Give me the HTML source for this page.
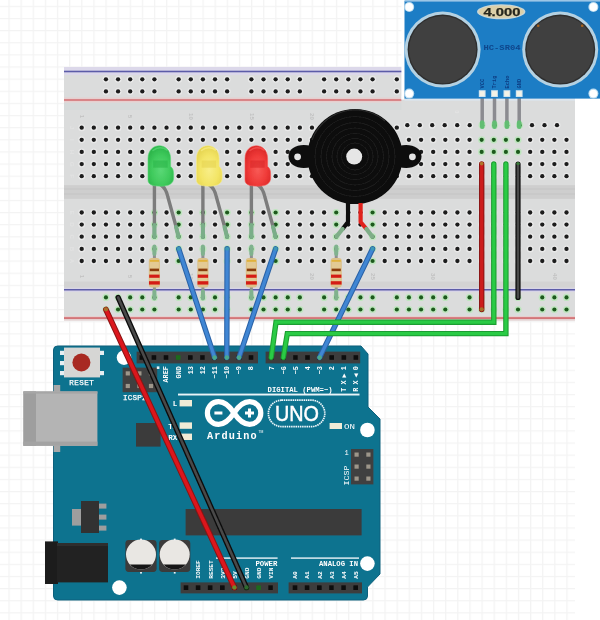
<!DOCTYPE html>
<html lang="en">
<head>
<meta charset="utf-8">
<title>Arduino ultrasonic distance alarm - breadboard wiring</title>
<style>
html,body{margin:0;padding:0;background:#fff;}
body{width:600px;height:620px;overflow:hidden;position:relative;font-family:"Liberation Sans",sans-serif;}
svg{position:absolute;left:0;top:0;display:block;}
.mono{font-family:"Liberation Mono",monospace;}
.sans{font-family:"Liberation Sans",sans-serif;}
.w{fill:#fff;}
</style>
</head>
<body>
<svg width="600" height="620" viewBox="0 0 600 620">
<defs>
<pattern id="grid" x="8.4" y="5.8" width="12.13" height="12.13" patternUnits="userSpaceOnUse">
<path d="M0.6 0V12.13M0 0.6H12.13" stroke="#f3f3f3" stroke-width="1.3" fill="none"/>
</pattern>
<filter id="soft" x="-5%" y="-5%" width="110%" height="110%"><feGaussianBlur stdDeviation="0.45"/></filter>
</defs>
<g filter="url(#soft)">
<rect x="0" y="0" width="600" height="620" fill="#ffffff"/>
<rect x="0" y="0" width="575" height="620" fill="url(#grid)"/>

<g id="breadboard">
<rect x="64" y="67" width="511" height="253.5" fill="#dbdcdc"/>
<rect x="64" y="67" width="511" height="8" fill="#dcd8ea"/>
<rect x="64" y="70.7" width="511" height="1.6" fill="#5b5ba8"/>
<rect x="64" y="97.5" width="511" height="5" fill="#e6cfcf"/>
<rect x="64" y="99.3" width="511" height="1.4" fill="#d2666a"/>
<rect x="64" y="103" width="511" height="7" fill="#d6dada"/>
<rect x="64" y="185.2" width="511" height="13.6" fill="#cecece"/>
<rect x="64" y="188" width="511" height="2" fill="#c9c9c9"/>
<rect x="64" y="193" width="511" height="2" fill="#c9c9c9"/>
<rect x="64" y="287.5" width="511" height="4.5" fill="#d8d5e6"/>
<rect x="64" y="289" width="511" height="1.5" fill="#5b5ba8"/>
<rect x="64" y="316" width="511" height="4.5" fill="#e6cfcf"/>
<rect x="64" y="317.3" width="511" height="1.5" fill="#cf5f63"/>
<circle cx="105.94" cy="79.3" r="3.5" fill="#e9e9e9"/><circle cx="105.94" cy="79.3" r="2.15" fill="#1a1a1a"/>
<circle cx="118.06" cy="79.3" r="3.5" fill="#e9e9e9"/><circle cx="118.06" cy="79.3" r="2.15" fill="#1a1a1a"/>
<circle cx="130.18" cy="79.3" r="3.5" fill="#e9e9e9"/><circle cx="130.18" cy="79.3" r="2.15" fill="#1a1a1a"/>
<circle cx="142.3" cy="79.3" r="3.5" fill="#e9e9e9"/><circle cx="142.3" cy="79.3" r="2.15" fill="#1a1a1a"/>
<circle cx="154.42" cy="79.3" r="3.5" fill="#e9e9e9"/><circle cx="154.42" cy="79.3" r="2.15" fill="#1a1a1a"/>
<circle cx="178.66" cy="79.3" r="3.5" fill="#e9e9e9"/><circle cx="178.66" cy="79.3" r="2.15" fill="#1a1a1a"/>
<circle cx="190.78" cy="79.3" r="3.5" fill="#e9e9e9"/><circle cx="190.78" cy="79.3" r="2.15" fill="#1a1a1a"/>
<circle cx="202.9" cy="79.3" r="3.5" fill="#e9e9e9"/><circle cx="202.9" cy="79.3" r="2.15" fill="#1a1a1a"/>
<circle cx="215.02" cy="79.3" r="3.5" fill="#e9e9e9"/><circle cx="215.02" cy="79.3" r="2.15" fill="#1a1a1a"/>
<circle cx="227.14" cy="79.3" r="3.5" fill="#e9e9e9"/><circle cx="227.14" cy="79.3" r="2.15" fill="#1a1a1a"/>
<circle cx="251.38" cy="79.3" r="3.5" fill="#e9e9e9"/><circle cx="251.38" cy="79.3" r="2.15" fill="#1a1a1a"/>
<circle cx="263.5" cy="79.3" r="3.5" fill="#e9e9e9"/><circle cx="263.5" cy="79.3" r="2.15" fill="#1a1a1a"/>
<circle cx="275.62" cy="79.3" r="3.5" fill="#e9e9e9"/><circle cx="275.62" cy="79.3" r="2.15" fill="#1a1a1a"/>
<circle cx="287.74" cy="79.3" r="3.5" fill="#e9e9e9"/><circle cx="287.74" cy="79.3" r="2.15" fill="#1a1a1a"/>
<circle cx="299.86" cy="79.3" r="3.5" fill="#e9e9e9"/><circle cx="299.86" cy="79.3" r="2.15" fill="#1a1a1a"/>
<circle cx="324.1" cy="79.3" r="3.5" fill="#e9e9e9"/><circle cx="324.1" cy="79.3" r="2.15" fill="#1a1a1a"/>
<circle cx="336.22" cy="79.3" r="3.5" fill="#e9e9e9"/><circle cx="336.22" cy="79.3" r="2.15" fill="#1a1a1a"/>
<circle cx="348.34" cy="79.3" r="3.5" fill="#e9e9e9"/><circle cx="348.34" cy="79.3" r="2.15" fill="#1a1a1a"/>
<circle cx="360.46" cy="79.3" r="3.5" fill="#e9e9e9"/><circle cx="360.46" cy="79.3" r="2.15" fill="#1a1a1a"/>
<circle cx="372.58" cy="79.3" r="3.5" fill="#e9e9e9"/><circle cx="372.58" cy="79.3" r="2.15" fill="#1a1a1a"/>
<circle cx="396.82" cy="79.3" r="3.5" fill="#e9e9e9"/><circle cx="396.82" cy="79.3" r="2.15" fill="#1a1a1a"/>
<circle cx="408.94" cy="79.3" r="3.5" fill="#e9e9e9"/><circle cx="408.94" cy="79.3" r="2.15" fill="#1a1a1a"/>
<circle cx="421.06" cy="79.3" r="3.5" fill="#e9e9e9"/><circle cx="421.06" cy="79.3" r="2.15" fill="#1a1a1a"/>
<circle cx="433.18" cy="79.3" r="3.5" fill="#e9e9e9"/><circle cx="433.18" cy="79.3" r="2.15" fill="#1a1a1a"/>
<circle cx="445.3" cy="79.3" r="3.5" fill="#e9e9e9"/><circle cx="445.3" cy="79.3" r="2.15" fill="#1a1a1a"/>
<circle cx="469.54" cy="79.3" r="3.5" fill="#e9e9e9"/><circle cx="469.54" cy="79.3" r="2.15" fill="#1a1a1a"/>
<circle cx="481.66" cy="79.3" r="3.5" fill="#e9e9e9"/><circle cx="481.66" cy="79.3" r="2.15" fill="#1a1a1a"/>
<circle cx="493.78" cy="79.3" r="3.5" fill="#e9e9e9"/><circle cx="493.78" cy="79.3" r="2.15" fill="#1a1a1a"/>
<circle cx="505.9" cy="79.3" r="3.5" fill="#e9e9e9"/><circle cx="505.9" cy="79.3" r="2.15" fill="#1a1a1a"/>
<circle cx="518.02" cy="79.3" r="3.5" fill="#e9e9e9"/><circle cx="518.02" cy="79.3" r="2.15" fill="#1a1a1a"/>
<circle cx="542.26" cy="79.3" r="3.5" fill="#e9e9e9"/><circle cx="542.26" cy="79.3" r="2.15" fill="#1a1a1a"/>
<circle cx="554.38" cy="79.3" r="3.5" fill="#e9e9e9"/><circle cx="554.38" cy="79.3" r="2.15" fill="#1a1a1a"/>
<circle cx="566.5" cy="79.3" r="3.5" fill="#e9e9e9"/><circle cx="566.5" cy="79.3" r="2.15" fill="#1a1a1a"/>
<circle cx="105.94" cy="91.4" r="3.5" fill="#e9e9e9"/><circle cx="105.94" cy="91.4" r="2.15" fill="#1a1a1a"/>
<circle cx="118.06" cy="91.4" r="3.5" fill="#e9e9e9"/><circle cx="118.06" cy="91.4" r="2.15" fill="#1a1a1a"/>
<circle cx="130.18" cy="91.4" r="3.5" fill="#e9e9e9"/><circle cx="130.18" cy="91.4" r="2.15" fill="#1a1a1a"/>
<circle cx="142.3" cy="91.4" r="3.5" fill="#e9e9e9"/><circle cx="142.3" cy="91.4" r="2.15" fill="#1a1a1a"/>
<circle cx="154.42" cy="91.4" r="3.5" fill="#e9e9e9"/><circle cx="154.42" cy="91.4" r="2.15" fill="#1a1a1a"/>
<circle cx="178.66" cy="91.4" r="3.5" fill="#e9e9e9"/><circle cx="178.66" cy="91.4" r="2.15" fill="#1a1a1a"/>
<circle cx="190.78" cy="91.4" r="3.5" fill="#e9e9e9"/><circle cx="190.78" cy="91.4" r="2.15" fill="#1a1a1a"/>
<circle cx="202.9" cy="91.4" r="3.5" fill="#e9e9e9"/><circle cx="202.9" cy="91.4" r="2.15" fill="#1a1a1a"/>
<circle cx="215.02" cy="91.4" r="3.5" fill="#e9e9e9"/><circle cx="215.02" cy="91.4" r="2.15" fill="#1a1a1a"/>
<circle cx="227.14" cy="91.4" r="3.5" fill="#e9e9e9"/><circle cx="227.14" cy="91.4" r="2.15" fill="#1a1a1a"/>
<circle cx="251.38" cy="91.4" r="3.5" fill="#e9e9e9"/><circle cx="251.38" cy="91.4" r="2.15" fill="#1a1a1a"/>
<circle cx="263.5" cy="91.4" r="3.5" fill="#e9e9e9"/><circle cx="263.5" cy="91.4" r="2.15" fill="#1a1a1a"/>
<circle cx="275.62" cy="91.4" r="3.5" fill="#e9e9e9"/><circle cx="275.62" cy="91.4" r="2.15" fill="#1a1a1a"/>
<circle cx="287.74" cy="91.4" r="3.5" fill="#e9e9e9"/><circle cx="287.74" cy="91.4" r="2.15" fill="#1a1a1a"/>
<circle cx="299.86" cy="91.4" r="3.5" fill="#e9e9e9"/><circle cx="299.86" cy="91.4" r="2.15" fill="#1a1a1a"/>
<circle cx="324.1" cy="91.4" r="3.5" fill="#e9e9e9"/><circle cx="324.1" cy="91.4" r="2.15" fill="#1a1a1a"/>
<circle cx="336.22" cy="91.4" r="3.5" fill="#e9e9e9"/><circle cx="336.22" cy="91.4" r="2.15" fill="#1a1a1a"/>
<circle cx="348.34" cy="91.4" r="3.5" fill="#e9e9e9"/><circle cx="348.34" cy="91.4" r="2.15" fill="#1a1a1a"/>
<circle cx="360.46" cy="91.4" r="3.5" fill="#e9e9e9"/><circle cx="360.46" cy="91.4" r="2.15" fill="#1a1a1a"/>
<circle cx="372.58" cy="91.4" r="3.5" fill="#e9e9e9"/><circle cx="372.58" cy="91.4" r="2.15" fill="#1a1a1a"/>
<circle cx="396.82" cy="91.4" r="3.5" fill="#e9e9e9"/><circle cx="396.82" cy="91.4" r="2.15" fill="#1a1a1a"/>
<circle cx="408.94" cy="91.4" r="3.5" fill="#e9e9e9"/><circle cx="408.94" cy="91.4" r="2.15" fill="#1a1a1a"/>
<circle cx="421.06" cy="91.4" r="3.5" fill="#e9e9e9"/><circle cx="421.06" cy="91.4" r="2.15" fill="#1a1a1a"/>
<circle cx="433.18" cy="91.4" r="3.5" fill="#e9e9e9"/><circle cx="433.18" cy="91.4" r="2.15" fill="#1a1a1a"/>
<circle cx="445.3" cy="91.4" r="3.5" fill="#e9e9e9"/><circle cx="445.3" cy="91.4" r="2.15" fill="#1a1a1a"/>
<circle cx="469.54" cy="91.4" r="3.5" fill="#e9e9e9"/><circle cx="469.54" cy="91.4" r="2.15" fill="#1a1a1a"/>
<circle cx="481.66" cy="91.4" r="3.5" fill="#e9e9e9"/><circle cx="481.66" cy="91.4" r="2.15" fill="#1a1a1a"/>
<circle cx="493.78" cy="91.4" r="3.5" fill="#e9e9e9"/><circle cx="493.78" cy="91.4" r="2.15" fill="#1a1a1a"/>
<circle cx="505.9" cy="91.4" r="3.5" fill="#e9e9e9"/><circle cx="505.9" cy="91.4" r="2.15" fill="#1a1a1a"/>
<circle cx="518.02" cy="91.4" r="3.5" fill="#e9e9e9"/><circle cx="518.02" cy="91.4" r="2.15" fill="#1a1a1a"/>
<circle cx="542.26" cy="91.4" r="3.5" fill="#e9e9e9"/><circle cx="542.26" cy="91.4" r="2.15" fill="#1a1a1a"/>
<circle cx="554.38" cy="91.4" r="3.5" fill="#e9e9e9"/><circle cx="554.38" cy="91.4" r="2.15" fill="#1a1a1a"/>
<circle cx="566.5" cy="91.4" r="3.5" fill="#e9e9e9"/><circle cx="566.5" cy="91.4" r="2.15" fill="#1a1a1a"/>
<circle cx="81.7" cy="127.7" r="3.5" fill="#e9e9e9"/><circle cx="81.7" cy="127.7" r="2.15" fill="#1a1a1a"/>
<circle cx="93.82" cy="127.7" r="3.5" fill="#e9e9e9"/><circle cx="93.82" cy="127.7" r="2.15" fill="#1a1a1a"/>
<circle cx="105.94" cy="127.7" r="3.5" fill="#e9e9e9"/><circle cx="105.94" cy="127.7" r="2.15" fill="#1a1a1a"/>
<circle cx="118.06" cy="127.7" r="3.5" fill="#e9e9e9"/><circle cx="118.06" cy="127.7" r="2.15" fill="#1a1a1a"/>
<circle cx="130.18" cy="127.7" r="3.5" fill="#e9e9e9"/><circle cx="130.18" cy="127.7" r="2.15" fill="#1a1a1a"/>
<circle cx="142.3" cy="127.7" r="3.5" fill="#e9e9e9"/><circle cx="142.3" cy="127.7" r="2.15" fill="#1a1a1a"/>
<circle cx="154.42" cy="127.7" r="3.5" fill="#e9e9e9"/><circle cx="154.42" cy="127.7" r="2.15" fill="#1a1a1a"/>
<circle cx="166.54" cy="127.7" r="3.5" fill="#e9e9e9"/><circle cx="166.54" cy="127.7" r="2.15" fill="#1a1a1a"/>
<circle cx="178.66" cy="127.7" r="3.5" fill="#e9e9e9"/><circle cx="178.66" cy="127.7" r="2.15" fill="#1a1a1a"/>
<circle cx="190.78" cy="127.7" r="3.5" fill="#e9e9e9"/><circle cx="190.78" cy="127.7" r="2.15" fill="#1a1a1a"/>
<circle cx="202.9" cy="127.7" r="3.5" fill="#e9e9e9"/><circle cx="202.9" cy="127.7" r="2.15" fill="#1a1a1a"/>
<circle cx="215.02" cy="127.7" r="3.5" fill="#e9e9e9"/><circle cx="215.02" cy="127.7" r="2.15" fill="#1a1a1a"/>
<circle cx="227.14" cy="127.7" r="3.5" fill="#e9e9e9"/><circle cx="227.14" cy="127.7" r="2.15" fill="#1a1a1a"/>
<circle cx="239.26" cy="127.7" r="3.5" fill="#e9e9e9"/><circle cx="239.26" cy="127.7" r="2.15" fill="#1a1a1a"/>
<circle cx="251.38" cy="127.7" r="3.5" fill="#e9e9e9"/><circle cx="251.38" cy="127.7" r="2.15" fill="#1a1a1a"/>
<circle cx="263.5" cy="127.7" r="3.5" fill="#e9e9e9"/><circle cx="263.5" cy="127.7" r="2.15" fill="#1a1a1a"/>
<circle cx="275.62" cy="127.7" r="3.5" fill="#e9e9e9"/><circle cx="275.62" cy="127.7" r="2.15" fill="#1a1a1a"/>
<circle cx="287.74" cy="127.7" r="3.5" fill="#e9e9e9"/><circle cx="287.74" cy="127.7" r="2.15" fill="#1a1a1a"/>
<circle cx="299.86" cy="127.7" r="3.5" fill="#e9e9e9"/><circle cx="299.86" cy="127.7" r="2.15" fill="#1a1a1a"/>
<circle cx="311.98" cy="127.7" r="3.5" fill="#e9e9e9"/><circle cx="311.98" cy="127.7" r="2.15" fill="#1a1a1a"/>
<circle cx="324.1" cy="127.7" r="3.5" fill="#e9e9e9"/><circle cx="324.1" cy="127.7" r="2.15" fill="#1a1a1a"/>
<circle cx="336.22" cy="127.7" r="3.5" fill="#e9e9e9"/><circle cx="336.22" cy="127.7" r="2.15" fill="#1a1a1a"/>
<circle cx="348.34" cy="127.7" r="3.5" fill="#e9e9e9"/><circle cx="348.34" cy="127.7" r="2.15" fill="#1a1a1a"/>
<circle cx="360.46" cy="127.7" r="3.5" fill="#e9e9e9"/><circle cx="360.46" cy="127.7" r="2.15" fill="#1a1a1a"/>
<circle cx="372.58" cy="127.7" r="3.5" fill="#e9e9e9"/><circle cx="372.58" cy="127.7" r="2.15" fill="#1a1a1a"/>
<circle cx="384.7" cy="127.7" r="3.5" fill="#e9e9e9"/><circle cx="384.7" cy="127.7" r="2.15" fill="#1a1a1a"/>
<circle cx="396.82" cy="127.7" r="3.5" fill="#e9e9e9"/><circle cx="396.82" cy="127.7" r="2.15" fill="#1a1a1a"/>
<circle cx="81.7" cy="139.8" r="3.5" fill="#e9e9e9"/><circle cx="81.7" cy="139.8" r="2.15" fill="#1a1a1a"/>
<circle cx="93.82" cy="139.8" r="3.5" fill="#e9e9e9"/><circle cx="93.82" cy="139.8" r="2.15" fill="#1a1a1a"/>
<circle cx="105.94" cy="139.8" r="3.5" fill="#e9e9e9"/><circle cx="105.94" cy="139.8" r="2.15" fill="#1a1a1a"/>
<circle cx="118.06" cy="139.8" r="3.5" fill="#e9e9e9"/><circle cx="118.06" cy="139.8" r="2.15" fill="#1a1a1a"/>
<circle cx="130.18" cy="139.8" r="3.5" fill="#e9e9e9"/><circle cx="130.18" cy="139.8" r="2.15" fill="#1a1a1a"/>
<circle cx="142.3" cy="139.8" r="3.5" fill="#e9e9e9"/><circle cx="142.3" cy="139.8" r="2.15" fill="#1a1a1a"/>
<circle cx="154.42" cy="139.8" r="3.5" fill="#e9e9e9"/><circle cx="154.42" cy="139.8" r="2.15" fill="#1a1a1a"/>
<circle cx="166.54" cy="139.8" r="3.5" fill="#e9e9e9"/><circle cx="166.54" cy="139.8" r="2.15" fill="#1a1a1a"/>
<circle cx="178.66" cy="139.8" r="3.5" fill="#e9e9e9"/><circle cx="178.66" cy="139.8" r="2.15" fill="#1a1a1a"/>
<circle cx="190.78" cy="139.8" r="3.5" fill="#e9e9e9"/><circle cx="190.78" cy="139.8" r="2.15" fill="#1a1a1a"/>
<circle cx="202.9" cy="139.8" r="3.5" fill="#e9e9e9"/><circle cx="202.9" cy="139.8" r="2.15" fill="#1a1a1a"/>
<circle cx="215.02" cy="139.8" r="3.5" fill="#e9e9e9"/><circle cx="215.02" cy="139.8" r="2.15" fill="#1a1a1a"/>
<circle cx="227.14" cy="139.8" r="3.5" fill="#e9e9e9"/><circle cx="227.14" cy="139.8" r="2.15" fill="#1a1a1a"/>
<circle cx="239.26" cy="139.8" r="3.5" fill="#e9e9e9"/><circle cx="239.26" cy="139.8" r="2.15" fill="#1a1a1a"/>
<circle cx="251.38" cy="139.8" r="3.5" fill="#e9e9e9"/><circle cx="251.38" cy="139.8" r="2.15" fill="#1a1a1a"/>
<circle cx="263.5" cy="139.8" r="3.5" fill="#e9e9e9"/><circle cx="263.5" cy="139.8" r="2.15" fill="#1a1a1a"/>
<circle cx="275.62" cy="139.8" r="3.5" fill="#e9e9e9"/><circle cx="275.62" cy="139.8" r="2.15" fill="#1a1a1a"/>
<circle cx="287.74" cy="139.8" r="3.5" fill="#e9e9e9"/><circle cx="287.74" cy="139.8" r="2.15" fill="#1a1a1a"/>
<circle cx="299.86" cy="139.8" r="3.5" fill="#e9e9e9"/><circle cx="299.86" cy="139.8" r="2.15" fill="#1a1a1a"/>
<circle cx="311.98" cy="139.8" r="3.5" fill="#e9e9e9"/><circle cx="311.98" cy="139.8" r="2.15" fill="#1a1a1a"/>
<circle cx="324.1" cy="139.8" r="3.5" fill="#e9e9e9"/><circle cx="324.1" cy="139.8" r="2.15" fill="#1a1a1a"/>
<circle cx="336.22" cy="139.8" r="3.5" fill="#e9e9e9"/><circle cx="336.22" cy="139.8" r="2.15" fill="#1a1a1a"/>
<circle cx="348.34" cy="139.8" r="3.5" fill="#e9e9e9"/><circle cx="348.34" cy="139.8" r="2.15" fill="#1a1a1a"/>
<circle cx="360.46" cy="139.8" r="3.5" fill="#e9e9e9"/><circle cx="360.46" cy="139.8" r="2.15" fill="#1a1a1a"/>
<circle cx="372.58" cy="139.8" r="3.5" fill="#e9e9e9"/><circle cx="372.58" cy="139.8" r="2.15" fill="#1a1a1a"/>
<circle cx="384.7" cy="139.8" r="3.5" fill="#e9e9e9"/><circle cx="384.7" cy="139.8" r="2.15" fill="#1a1a1a"/>
<circle cx="396.82" cy="139.8" r="3.5" fill="#e9e9e9"/><circle cx="396.82" cy="139.8" r="2.15" fill="#1a1a1a"/>
<circle cx="408.94" cy="139.8" r="3.5" fill="#e9e9e9"/><circle cx="408.94" cy="139.8" r="2.15" fill="#1a1a1a"/>
<circle cx="421.06" cy="139.8" r="3.5" fill="#e9e9e9"/><circle cx="421.06" cy="139.8" r="2.15" fill="#1a1a1a"/>
<circle cx="433.18" cy="139.8" r="3.5" fill="#e9e9e9"/><circle cx="433.18" cy="139.8" r="2.15" fill="#1a1a1a"/>
<circle cx="445.3" cy="139.8" r="3.5" fill="#e9e9e9"/><circle cx="445.3" cy="139.8" r="2.15" fill="#1a1a1a"/>
<circle cx="457.42" cy="139.8" r="3.5" fill="#e9e9e9"/><circle cx="457.42" cy="139.8" r="2.15" fill="#1a1a1a"/>
<circle cx="469.54" cy="139.8" r="3.5" fill="#e9e9e9"/><circle cx="469.54" cy="139.8" r="2.15" fill="#1a1a1a"/>
<circle cx="481.66" cy="139.8" r="3.6" fill="#bfe6bf"/><circle cx="481.66" cy="139.8" r="2.1" fill="#1f5a1f"/>
<circle cx="493.78" cy="139.8" r="3.6" fill="#bfe6bf"/><circle cx="493.78" cy="139.8" r="2.1" fill="#1f5a1f"/>
<circle cx="505.9" cy="139.8" r="3.6" fill="#bfe6bf"/><circle cx="505.9" cy="139.8" r="2.1" fill="#1f5a1f"/>
<circle cx="518.02" cy="139.8" r="3.6" fill="#bfe6bf"/><circle cx="518.02" cy="139.8" r="2.1" fill="#1f5a1f"/>
<circle cx="530.14" cy="139.8" r="3.5" fill="#e9e9e9"/><circle cx="530.14" cy="139.8" r="2.15" fill="#1a1a1a"/>
<circle cx="542.26" cy="139.8" r="3.5" fill="#e9e9e9"/><circle cx="542.26" cy="139.8" r="2.15" fill="#1a1a1a"/>
<circle cx="554.38" cy="139.8" r="3.5" fill="#e9e9e9"/><circle cx="554.38" cy="139.8" r="2.15" fill="#1a1a1a"/>
<circle cx="566.5" cy="139.8" r="3.5" fill="#e9e9e9"/><circle cx="566.5" cy="139.8" r="2.15" fill="#1a1a1a"/>
<circle cx="81.7" cy="151.9" r="3.5" fill="#e9e9e9"/><circle cx="81.7" cy="151.9" r="2.15" fill="#1a1a1a"/>
<circle cx="93.82" cy="151.9" r="3.5" fill="#e9e9e9"/><circle cx="93.82" cy="151.9" r="2.15" fill="#1a1a1a"/>
<circle cx="105.94" cy="151.9" r="3.5" fill="#e9e9e9"/><circle cx="105.94" cy="151.9" r="2.15" fill="#1a1a1a"/>
<circle cx="118.06" cy="151.9" r="3.5" fill="#e9e9e9"/><circle cx="118.06" cy="151.9" r="2.15" fill="#1a1a1a"/>
<circle cx="130.18" cy="151.9" r="3.5" fill="#e9e9e9"/><circle cx="130.18" cy="151.9" r="2.15" fill="#1a1a1a"/>
<circle cx="142.3" cy="151.9" r="3.5" fill="#e9e9e9"/><circle cx="142.3" cy="151.9" r="2.15" fill="#1a1a1a"/>
<circle cx="154.42" cy="151.9" r="3.5" fill="#e9e9e9"/><circle cx="154.42" cy="151.9" r="2.15" fill="#1a1a1a"/>
<circle cx="166.54" cy="151.9" r="3.5" fill="#e9e9e9"/><circle cx="166.54" cy="151.9" r="2.15" fill="#1a1a1a"/>
<circle cx="178.66" cy="151.9" r="3.5" fill="#e9e9e9"/><circle cx="178.66" cy="151.9" r="2.15" fill="#1a1a1a"/>
<circle cx="190.78" cy="151.9" r="3.5" fill="#e9e9e9"/><circle cx="190.78" cy="151.9" r="2.15" fill="#1a1a1a"/>
<circle cx="202.9" cy="151.9" r="3.5" fill="#e9e9e9"/><circle cx="202.9" cy="151.9" r="2.15" fill="#1a1a1a"/>
<circle cx="215.02" cy="151.9" r="3.5" fill="#e9e9e9"/><circle cx="215.02" cy="151.9" r="2.15" fill="#1a1a1a"/>
<circle cx="227.14" cy="151.9" r="3.5" fill="#e9e9e9"/><circle cx="227.14" cy="151.9" r="2.15" fill="#1a1a1a"/>
<circle cx="239.26" cy="151.9" r="3.5" fill="#e9e9e9"/><circle cx="239.26" cy="151.9" r="2.15" fill="#1a1a1a"/>
<circle cx="251.38" cy="151.9" r="3.5" fill="#e9e9e9"/><circle cx="251.38" cy="151.9" r="2.15" fill="#1a1a1a"/>
<circle cx="263.5" cy="151.9" r="3.5" fill="#e9e9e9"/><circle cx="263.5" cy="151.9" r="2.15" fill="#1a1a1a"/>
<circle cx="275.62" cy="151.9" r="3.5" fill="#e9e9e9"/><circle cx="275.62" cy="151.9" r="2.15" fill="#1a1a1a"/>
<circle cx="287.74" cy="151.9" r="3.5" fill="#e9e9e9"/><circle cx="287.74" cy="151.9" r="2.15" fill="#1a1a1a"/>
<circle cx="299.86" cy="151.9" r="3.5" fill="#e9e9e9"/><circle cx="299.86" cy="151.9" r="2.15" fill="#1a1a1a"/>
<circle cx="311.98" cy="151.9" r="3.5" fill="#e9e9e9"/><circle cx="311.98" cy="151.9" r="2.15" fill="#1a1a1a"/>
<circle cx="324.1" cy="151.9" r="3.5" fill="#e9e9e9"/><circle cx="324.1" cy="151.9" r="2.15" fill="#1a1a1a"/>
<circle cx="336.22" cy="151.9" r="3.5" fill="#e9e9e9"/><circle cx="336.22" cy="151.9" r="2.15" fill="#1a1a1a"/>
<circle cx="348.34" cy="151.9" r="3.5" fill="#e9e9e9"/><circle cx="348.34" cy="151.9" r="2.15" fill="#1a1a1a"/>
<circle cx="360.46" cy="151.9" r="3.5" fill="#e9e9e9"/><circle cx="360.46" cy="151.9" r="2.15" fill="#1a1a1a"/>
<circle cx="372.58" cy="151.9" r="3.5" fill="#e9e9e9"/><circle cx="372.58" cy="151.9" r="2.15" fill="#1a1a1a"/>
<circle cx="384.7" cy="151.9" r="3.5" fill="#e9e9e9"/><circle cx="384.7" cy="151.9" r="2.15" fill="#1a1a1a"/>
<circle cx="396.82" cy="151.9" r="3.5" fill="#e9e9e9"/><circle cx="396.82" cy="151.9" r="2.15" fill="#1a1a1a"/>
<circle cx="408.94" cy="151.9" r="3.5" fill="#e9e9e9"/><circle cx="408.94" cy="151.9" r="2.15" fill="#1a1a1a"/>
<circle cx="421.06" cy="151.9" r="3.5" fill="#e9e9e9"/><circle cx="421.06" cy="151.9" r="2.15" fill="#1a1a1a"/>
<circle cx="433.18" cy="151.9" r="3.5" fill="#e9e9e9"/><circle cx="433.18" cy="151.9" r="2.15" fill="#1a1a1a"/>
<circle cx="445.3" cy="151.9" r="3.5" fill="#e9e9e9"/><circle cx="445.3" cy="151.9" r="2.15" fill="#1a1a1a"/>
<circle cx="457.42" cy="151.9" r="3.5" fill="#e9e9e9"/><circle cx="457.42" cy="151.9" r="2.15" fill="#1a1a1a"/>
<circle cx="469.54" cy="151.9" r="3.5" fill="#e9e9e9"/><circle cx="469.54" cy="151.9" r="2.15" fill="#1a1a1a"/>
<circle cx="481.66" cy="151.9" r="3.6" fill="#bfe6bf"/><circle cx="481.66" cy="151.9" r="2.1" fill="#1f5a1f"/>
<circle cx="493.78" cy="151.9" r="3.6" fill="#bfe6bf"/><circle cx="493.78" cy="151.9" r="2.1" fill="#1f5a1f"/>
<circle cx="505.9" cy="151.9" r="3.6" fill="#bfe6bf"/><circle cx="505.9" cy="151.9" r="2.1" fill="#1f5a1f"/>
<circle cx="518.02" cy="151.9" r="3.6" fill="#bfe6bf"/><circle cx="518.02" cy="151.9" r="2.1" fill="#1f5a1f"/>
<circle cx="530.14" cy="151.9" r="3.5" fill="#e9e9e9"/><circle cx="530.14" cy="151.9" r="2.15" fill="#1a1a1a"/>
<circle cx="542.26" cy="151.9" r="3.5" fill="#e9e9e9"/><circle cx="542.26" cy="151.9" r="2.15" fill="#1a1a1a"/>
<circle cx="554.38" cy="151.9" r="3.5" fill="#e9e9e9"/><circle cx="554.38" cy="151.9" r="2.15" fill="#1a1a1a"/>
<circle cx="566.5" cy="151.9" r="3.5" fill="#e9e9e9"/><circle cx="566.5" cy="151.9" r="2.15" fill="#1a1a1a"/>
<circle cx="81.7" cy="164.1" r="3.5" fill="#e9e9e9"/><circle cx="81.7" cy="164.1" r="2.15" fill="#1a1a1a"/>
<circle cx="93.82" cy="164.1" r="3.5" fill="#e9e9e9"/><circle cx="93.82" cy="164.1" r="2.15" fill="#1a1a1a"/>
<circle cx="105.94" cy="164.1" r="3.5" fill="#e9e9e9"/><circle cx="105.94" cy="164.1" r="2.15" fill="#1a1a1a"/>
<circle cx="118.06" cy="164.1" r="3.5" fill="#e9e9e9"/><circle cx="118.06" cy="164.1" r="2.15" fill="#1a1a1a"/>
<circle cx="130.18" cy="164.1" r="3.5" fill="#e9e9e9"/><circle cx="130.18" cy="164.1" r="2.15" fill="#1a1a1a"/>
<circle cx="142.3" cy="164.1" r="3.5" fill="#e9e9e9"/><circle cx="142.3" cy="164.1" r="2.15" fill="#1a1a1a"/>
<circle cx="154.42" cy="164.1" r="3.5" fill="#e9e9e9"/><circle cx="154.42" cy="164.1" r="2.15" fill="#1a1a1a"/>
<circle cx="166.54" cy="164.1" r="3.5" fill="#e9e9e9"/><circle cx="166.54" cy="164.1" r="2.15" fill="#1a1a1a"/>
<circle cx="178.66" cy="164.1" r="3.5" fill="#e9e9e9"/><circle cx="178.66" cy="164.1" r="2.15" fill="#1a1a1a"/>
<circle cx="190.78" cy="164.1" r="3.5" fill="#e9e9e9"/><circle cx="190.78" cy="164.1" r="2.15" fill="#1a1a1a"/>
<circle cx="202.9" cy="164.1" r="3.5" fill="#e9e9e9"/><circle cx="202.9" cy="164.1" r="2.15" fill="#1a1a1a"/>
<circle cx="215.02" cy="164.1" r="3.5" fill="#e9e9e9"/><circle cx="215.02" cy="164.1" r="2.15" fill="#1a1a1a"/>
<circle cx="227.14" cy="164.1" r="3.5" fill="#e9e9e9"/><circle cx="227.14" cy="164.1" r="2.15" fill="#1a1a1a"/>
<circle cx="239.26" cy="164.1" r="3.5" fill="#e9e9e9"/><circle cx="239.26" cy="164.1" r="2.15" fill="#1a1a1a"/>
<circle cx="251.38" cy="164.1" r="3.5" fill="#e9e9e9"/><circle cx="251.38" cy="164.1" r="2.15" fill="#1a1a1a"/>
<circle cx="263.5" cy="164.1" r="3.5" fill="#e9e9e9"/><circle cx="263.5" cy="164.1" r="2.15" fill="#1a1a1a"/>
<circle cx="275.62" cy="164.1" r="3.5" fill="#e9e9e9"/><circle cx="275.62" cy="164.1" r="2.15" fill="#1a1a1a"/>
<circle cx="287.74" cy="164.1" r="3.5" fill="#e9e9e9"/><circle cx="287.74" cy="164.1" r="2.15" fill="#1a1a1a"/>
<circle cx="299.86" cy="164.1" r="3.5" fill="#e9e9e9"/><circle cx="299.86" cy="164.1" r="2.15" fill="#1a1a1a"/>
<circle cx="311.98" cy="164.1" r="3.5" fill="#e9e9e9"/><circle cx="311.98" cy="164.1" r="2.15" fill="#1a1a1a"/>
<circle cx="324.1" cy="164.1" r="3.5" fill="#e9e9e9"/><circle cx="324.1" cy="164.1" r="2.15" fill="#1a1a1a"/>
<circle cx="336.22" cy="164.1" r="3.5" fill="#e9e9e9"/><circle cx="336.22" cy="164.1" r="2.15" fill="#1a1a1a"/>
<circle cx="348.34" cy="164.1" r="3.5" fill="#e9e9e9"/><circle cx="348.34" cy="164.1" r="2.15" fill="#1a1a1a"/>
<circle cx="360.46" cy="164.1" r="3.5" fill="#e9e9e9"/><circle cx="360.46" cy="164.1" r="2.15" fill="#1a1a1a"/>
<circle cx="372.58" cy="164.1" r="3.5" fill="#e9e9e9"/><circle cx="372.58" cy="164.1" r="2.15" fill="#1a1a1a"/>
<circle cx="384.7" cy="164.1" r="3.5" fill="#e9e9e9"/><circle cx="384.7" cy="164.1" r="2.15" fill="#1a1a1a"/>
<circle cx="396.82" cy="164.1" r="3.5" fill="#e9e9e9"/><circle cx="396.82" cy="164.1" r="2.15" fill="#1a1a1a"/>
<circle cx="408.94" cy="164.1" r="3.5" fill="#e9e9e9"/><circle cx="408.94" cy="164.1" r="2.15" fill="#1a1a1a"/>
<circle cx="421.06" cy="164.1" r="3.5" fill="#e9e9e9"/><circle cx="421.06" cy="164.1" r="2.15" fill="#1a1a1a"/>
<circle cx="433.18" cy="164.1" r="3.5" fill="#e9e9e9"/><circle cx="433.18" cy="164.1" r="2.15" fill="#1a1a1a"/>
<circle cx="445.3" cy="164.1" r="3.5" fill="#e9e9e9"/><circle cx="445.3" cy="164.1" r="2.15" fill="#1a1a1a"/>
<circle cx="457.42" cy="164.1" r="3.5" fill="#e9e9e9"/><circle cx="457.42" cy="164.1" r="2.15" fill="#1a1a1a"/>
<circle cx="469.54" cy="164.1" r="3.5" fill="#e9e9e9"/><circle cx="469.54" cy="164.1" r="2.15" fill="#1a1a1a"/>
<circle cx="481.66" cy="164.1" r="3.5" fill="#e9e9e9"/><circle cx="481.66" cy="164.1" r="2.15" fill="#1a1a1a"/>
<circle cx="493.78" cy="164.1" r="3.5" fill="#e9e9e9"/><circle cx="493.78" cy="164.1" r="2.15" fill="#1a1a1a"/>
<circle cx="505.9" cy="164.1" r="3.5" fill="#e9e9e9"/><circle cx="505.9" cy="164.1" r="2.15" fill="#1a1a1a"/>
<circle cx="518.02" cy="164.1" r="3.5" fill="#e9e9e9"/><circle cx="518.02" cy="164.1" r="2.15" fill="#1a1a1a"/>
<circle cx="530.14" cy="164.1" r="3.5" fill="#e9e9e9"/><circle cx="530.14" cy="164.1" r="2.15" fill="#1a1a1a"/>
<circle cx="542.26" cy="164.1" r="3.5" fill="#e9e9e9"/><circle cx="542.26" cy="164.1" r="2.15" fill="#1a1a1a"/>
<circle cx="554.38" cy="164.1" r="3.5" fill="#e9e9e9"/><circle cx="554.38" cy="164.1" r="2.15" fill="#1a1a1a"/>
<circle cx="566.5" cy="164.1" r="3.5" fill="#e9e9e9"/><circle cx="566.5" cy="164.1" r="2.15" fill="#1a1a1a"/>
<circle cx="81.7" cy="176.2" r="3.5" fill="#e9e9e9"/><circle cx="81.7" cy="176.2" r="2.15" fill="#1a1a1a"/>
<circle cx="93.82" cy="176.2" r="3.5" fill="#e9e9e9"/><circle cx="93.82" cy="176.2" r="2.15" fill="#1a1a1a"/>
<circle cx="105.94" cy="176.2" r="3.5" fill="#e9e9e9"/><circle cx="105.94" cy="176.2" r="2.15" fill="#1a1a1a"/>
<circle cx="118.06" cy="176.2" r="3.5" fill="#e9e9e9"/><circle cx="118.06" cy="176.2" r="2.15" fill="#1a1a1a"/>
<circle cx="130.18" cy="176.2" r="3.5" fill="#e9e9e9"/><circle cx="130.18" cy="176.2" r="2.15" fill="#1a1a1a"/>
<circle cx="142.3" cy="176.2" r="3.5" fill="#e9e9e9"/><circle cx="142.3" cy="176.2" r="2.15" fill="#1a1a1a"/>
<circle cx="154.42" cy="176.2" r="3.5" fill="#e9e9e9"/><circle cx="154.42" cy="176.2" r="2.15" fill="#1a1a1a"/>
<circle cx="166.54" cy="176.2" r="3.5" fill="#e9e9e9"/><circle cx="166.54" cy="176.2" r="2.15" fill="#1a1a1a"/>
<circle cx="178.66" cy="176.2" r="3.5" fill="#e9e9e9"/><circle cx="178.66" cy="176.2" r="2.15" fill="#1a1a1a"/>
<circle cx="190.78" cy="176.2" r="3.5" fill="#e9e9e9"/><circle cx="190.78" cy="176.2" r="2.15" fill="#1a1a1a"/>
<circle cx="202.9" cy="176.2" r="3.5" fill="#e9e9e9"/><circle cx="202.9" cy="176.2" r="2.15" fill="#1a1a1a"/>
<circle cx="215.02" cy="176.2" r="3.5" fill="#e9e9e9"/><circle cx="215.02" cy="176.2" r="2.15" fill="#1a1a1a"/>
<circle cx="227.14" cy="176.2" r="3.5" fill="#e9e9e9"/><circle cx="227.14" cy="176.2" r="2.15" fill="#1a1a1a"/>
<circle cx="239.26" cy="176.2" r="3.5" fill="#e9e9e9"/><circle cx="239.26" cy="176.2" r="2.15" fill="#1a1a1a"/>
<circle cx="251.38" cy="176.2" r="3.5" fill="#e9e9e9"/><circle cx="251.38" cy="176.2" r="2.15" fill="#1a1a1a"/>
<circle cx="263.5" cy="176.2" r="3.5" fill="#e9e9e9"/><circle cx="263.5" cy="176.2" r="2.15" fill="#1a1a1a"/>
<circle cx="275.62" cy="176.2" r="3.5" fill="#e9e9e9"/><circle cx="275.62" cy="176.2" r="2.15" fill="#1a1a1a"/>
<circle cx="287.74" cy="176.2" r="3.5" fill="#e9e9e9"/><circle cx="287.74" cy="176.2" r="2.15" fill="#1a1a1a"/>
<circle cx="299.86" cy="176.2" r="3.5" fill="#e9e9e9"/><circle cx="299.86" cy="176.2" r="2.15" fill="#1a1a1a"/>
<circle cx="311.98" cy="176.2" r="3.5" fill="#e9e9e9"/><circle cx="311.98" cy="176.2" r="2.15" fill="#1a1a1a"/>
<circle cx="324.1" cy="176.2" r="3.5" fill="#e9e9e9"/><circle cx="324.1" cy="176.2" r="2.15" fill="#1a1a1a"/>
<circle cx="336.22" cy="176.2" r="3.5" fill="#e9e9e9"/><circle cx="336.22" cy="176.2" r="2.15" fill="#1a1a1a"/>
<circle cx="348.34" cy="176.2" r="3.5" fill="#e9e9e9"/><circle cx="348.34" cy="176.2" r="2.15" fill="#1a1a1a"/>
<circle cx="360.46" cy="176.2" r="3.5" fill="#e9e9e9"/><circle cx="360.46" cy="176.2" r="2.15" fill="#1a1a1a"/>
<circle cx="372.58" cy="176.2" r="3.5" fill="#e9e9e9"/><circle cx="372.58" cy="176.2" r="2.15" fill="#1a1a1a"/>
<circle cx="384.7" cy="176.2" r="3.5" fill="#e9e9e9"/><circle cx="384.7" cy="176.2" r="2.15" fill="#1a1a1a"/>
<circle cx="396.82" cy="176.2" r="3.5" fill="#e9e9e9"/><circle cx="396.82" cy="176.2" r="2.15" fill="#1a1a1a"/>
<circle cx="408.94" cy="176.2" r="3.5" fill="#e9e9e9"/><circle cx="408.94" cy="176.2" r="2.15" fill="#1a1a1a"/>
<circle cx="421.06" cy="176.2" r="3.5" fill="#e9e9e9"/><circle cx="421.06" cy="176.2" r="2.15" fill="#1a1a1a"/>
<circle cx="433.18" cy="176.2" r="3.5" fill="#e9e9e9"/><circle cx="433.18" cy="176.2" r="2.15" fill="#1a1a1a"/>
<circle cx="445.3" cy="176.2" r="3.5" fill="#e9e9e9"/><circle cx="445.3" cy="176.2" r="2.15" fill="#1a1a1a"/>
<circle cx="457.42" cy="176.2" r="3.5" fill="#e9e9e9"/><circle cx="457.42" cy="176.2" r="2.15" fill="#1a1a1a"/>
<circle cx="469.54" cy="176.2" r="3.5" fill="#e9e9e9"/><circle cx="469.54" cy="176.2" r="2.15" fill="#1a1a1a"/>
<circle cx="481.66" cy="176.2" r="3.5" fill="#e9e9e9"/><circle cx="481.66" cy="176.2" r="2.15" fill="#1a1a1a"/>
<circle cx="493.78" cy="176.2" r="3.5" fill="#e9e9e9"/><circle cx="493.78" cy="176.2" r="2.15" fill="#1a1a1a"/>
<circle cx="505.9" cy="176.2" r="3.5" fill="#e9e9e9"/><circle cx="505.9" cy="176.2" r="2.15" fill="#1a1a1a"/>
<circle cx="518.02" cy="176.2" r="3.5" fill="#e9e9e9"/><circle cx="518.02" cy="176.2" r="2.15" fill="#1a1a1a"/>
<circle cx="530.14" cy="176.2" r="3.5" fill="#e9e9e9"/><circle cx="530.14" cy="176.2" r="2.15" fill="#1a1a1a"/>
<circle cx="542.26" cy="176.2" r="3.5" fill="#e9e9e9"/><circle cx="542.26" cy="176.2" r="2.15" fill="#1a1a1a"/>
<circle cx="554.38" cy="176.2" r="3.5" fill="#e9e9e9"/><circle cx="554.38" cy="176.2" r="2.15" fill="#1a1a1a"/>
<circle cx="566.5" cy="176.2" r="3.5" fill="#e9e9e9"/><circle cx="566.5" cy="176.2" r="2.15" fill="#1a1a1a"/>
<circle cx="407.3" cy="125.2" r="3.5" fill="#e9e9e9"/><circle cx="407.3" cy="125.2" r="2.15" fill="#1a1a1a"/>
<circle cx="419.8" cy="125.2" r="3.5" fill="#e9e9e9"/><circle cx="419.8" cy="125.2" r="2.15" fill="#1a1a1a"/>
<circle cx="432.2" cy="125.2" r="3.5" fill="#e9e9e9"/><circle cx="432.2" cy="125.2" r="2.15" fill="#1a1a1a"/>
<circle cx="444.7" cy="125.2" r="3.5" fill="#e9e9e9"/><circle cx="444.7" cy="125.2" r="2.15" fill="#1a1a1a"/>
<circle cx="457.2" cy="125.2" r="3.5" fill="#e9e9e9"/><circle cx="457.2" cy="125.2" r="2.15" fill="#1a1a1a"/>
<circle cx="469.7" cy="125.2" r="3.5" fill="#e9e9e9"/><circle cx="469.7" cy="125.2" r="2.15" fill="#1a1a1a"/>
<circle cx="482.1" cy="125.2" r="3.6" fill="#bfe6bf"/><circle cx="482.1" cy="125.2" r="2.1" fill="#1f5a1f"/>
<circle cx="494.6" cy="125.2" r="3.6" fill="#bfe6bf"/><circle cx="494.6" cy="125.2" r="2.1" fill="#1f5a1f"/>
<circle cx="507.1" cy="125.2" r="3.6" fill="#bfe6bf"/><circle cx="507.1" cy="125.2" r="2.1" fill="#1f5a1f"/>
<circle cx="519.6" cy="125.2" r="3.6" fill="#bfe6bf"/><circle cx="519.6" cy="125.2" r="2.1" fill="#1f5a1f"/>
<circle cx="532.0" cy="125.2" r="3.5" fill="#e9e9e9"/><circle cx="532.0" cy="125.2" r="2.15" fill="#1a1a1a"/>
<circle cx="544.5" cy="125.2" r="3.5" fill="#e9e9e9"/><circle cx="544.5" cy="125.2" r="2.15" fill="#1a1a1a"/>
<circle cx="557.0" cy="125.2" r="3.5" fill="#e9e9e9"/><circle cx="557.0" cy="125.2" r="2.15" fill="#1a1a1a"/>
<circle cx="81.7" cy="212.5" r="3.5" fill="#e9e9e9"/><circle cx="81.7" cy="212.5" r="2.15" fill="#1a1a1a"/>
<circle cx="93.82" cy="212.5" r="3.5" fill="#e9e9e9"/><circle cx="93.82" cy="212.5" r="2.15" fill="#1a1a1a"/>
<circle cx="105.94" cy="212.5" r="3.5" fill="#e9e9e9"/><circle cx="105.94" cy="212.5" r="2.15" fill="#1a1a1a"/>
<circle cx="118.06" cy="212.5" r="3.5" fill="#e9e9e9"/><circle cx="118.06" cy="212.5" r="2.15" fill="#1a1a1a"/>
<circle cx="130.18" cy="212.5" r="3.5" fill="#e9e9e9"/><circle cx="130.18" cy="212.5" r="2.15" fill="#1a1a1a"/>
<circle cx="142.3" cy="212.5" r="3.5" fill="#e9e9e9"/><circle cx="142.3" cy="212.5" r="2.15" fill="#1a1a1a"/>
<circle cx="154.42" cy="212.5" r="3.6" fill="#bfe6bf"/><circle cx="154.42" cy="212.5" r="2.1" fill="#1f5a1f"/>
<circle cx="166.54" cy="212.5" r="3.5" fill="#e9e9e9"/><circle cx="166.54" cy="212.5" r="2.15" fill="#1a1a1a"/>
<circle cx="178.66" cy="212.5" r="3.6" fill="#bfe6bf"/><circle cx="178.66" cy="212.5" r="2.1" fill="#1f5a1f"/>
<circle cx="190.78" cy="212.5" r="3.5" fill="#e9e9e9"/><circle cx="190.78" cy="212.5" r="2.15" fill="#1a1a1a"/>
<circle cx="202.9" cy="212.5" r="3.6" fill="#bfe6bf"/><circle cx="202.9" cy="212.5" r="2.1" fill="#1f5a1f"/>
<circle cx="215.02" cy="212.5" r="3.5" fill="#e9e9e9"/><circle cx="215.02" cy="212.5" r="2.15" fill="#1a1a1a"/>
<circle cx="227.14" cy="212.5" r="3.6" fill="#bfe6bf"/><circle cx="227.14" cy="212.5" r="2.1" fill="#1f5a1f"/>
<circle cx="239.26" cy="212.5" r="3.5" fill="#e9e9e9"/><circle cx="239.26" cy="212.5" r="2.15" fill="#1a1a1a"/>
<circle cx="251.38" cy="212.5" r="3.6" fill="#bfe6bf"/><circle cx="251.38" cy="212.5" r="2.1" fill="#1f5a1f"/>
<circle cx="263.5" cy="212.5" r="3.5" fill="#e9e9e9"/><circle cx="263.5" cy="212.5" r="2.15" fill="#1a1a1a"/>
<circle cx="275.62" cy="212.5" r="3.6" fill="#bfe6bf"/><circle cx="275.62" cy="212.5" r="2.1" fill="#1f5a1f"/>
<circle cx="287.74" cy="212.5" r="3.5" fill="#e9e9e9"/><circle cx="287.74" cy="212.5" r="2.15" fill="#1a1a1a"/>
<circle cx="299.86" cy="212.5" r="3.5" fill="#e9e9e9"/><circle cx="299.86" cy="212.5" r="2.15" fill="#1a1a1a"/>
<circle cx="311.98" cy="212.5" r="3.5" fill="#e9e9e9"/><circle cx="311.98" cy="212.5" r="2.15" fill="#1a1a1a"/>
<circle cx="324.1" cy="212.5" r="3.5" fill="#e9e9e9"/><circle cx="324.1" cy="212.5" r="2.15" fill="#1a1a1a"/>
<circle cx="336.22" cy="212.5" r="3.6" fill="#bfe6bf"/><circle cx="336.22" cy="212.5" r="2.1" fill="#1f5a1f"/>
<circle cx="348.34" cy="212.5" r="3.5" fill="#e9e9e9"/><circle cx="348.34" cy="212.5" r="2.15" fill="#1a1a1a"/>
<circle cx="360.46" cy="212.5" r="3.5" fill="#e9e9e9"/><circle cx="360.46" cy="212.5" r="2.15" fill="#1a1a1a"/>
<circle cx="372.58" cy="212.5" r="3.6" fill="#bfe6bf"/><circle cx="372.58" cy="212.5" r="2.1" fill="#1f5a1f"/>
<circle cx="384.7" cy="212.5" r="3.5" fill="#e9e9e9"/><circle cx="384.7" cy="212.5" r="2.15" fill="#1a1a1a"/>
<circle cx="396.82" cy="212.5" r="3.5" fill="#e9e9e9"/><circle cx="396.82" cy="212.5" r="2.15" fill="#1a1a1a"/>
<circle cx="408.94" cy="212.5" r="3.5" fill="#e9e9e9"/><circle cx="408.94" cy="212.5" r="2.15" fill="#1a1a1a"/>
<circle cx="421.06" cy="212.5" r="3.5" fill="#e9e9e9"/><circle cx="421.06" cy="212.5" r="2.15" fill="#1a1a1a"/>
<circle cx="433.18" cy="212.5" r="3.5" fill="#e9e9e9"/><circle cx="433.18" cy="212.5" r="2.15" fill="#1a1a1a"/>
<circle cx="445.3" cy="212.5" r="3.5" fill="#e9e9e9"/><circle cx="445.3" cy="212.5" r="2.15" fill="#1a1a1a"/>
<circle cx="457.42" cy="212.5" r="3.5" fill="#e9e9e9"/><circle cx="457.42" cy="212.5" r="2.15" fill="#1a1a1a"/>
<circle cx="469.54" cy="212.5" r="3.5" fill="#e9e9e9"/><circle cx="469.54" cy="212.5" r="2.15" fill="#1a1a1a"/>
<circle cx="481.66" cy="212.5" r="3.5" fill="#e9e9e9"/><circle cx="481.66" cy="212.5" r="2.15" fill="#1a1a1a"/>
<circle cx="493.78" cy="212.5" r="3.5" fill="#e9e9e9"/><circle cx="493.78" cy="212.5" r="2.15" fill="#1a1a1a"/>
<circle cx="505.9" cy="212.5" r="3.5" fill="#e9e9e9"/><circle cx="505.9" cy="212.5" r="2.15" fill="#1a1a1a"/>
<circle cx="518.02" cy="212.5" r="3.5" fill="#e9e9e9"/><circle cx="518.02" cy="212.5" r="2.15" fill="#1a1a1a"/>
<circle cx="530.14" cy="212.5" r="3.5" fill="#e9e9e9"/><circle cx="530.14" cy="212.5" r="2.15" fill="#1a1a1a"/>
<circle cx="542.26" cy="212.5" r="3.5" fill="#e9e9e9"/><circle cx="542.26" cy="212.5" r="2.15" fill="#1a1a1a"/>
<circle cx="554.38" cy="212.5" r="3.5" fill="#e9e9e9"/><circle cx="554.38" cy="212.5" r="2.15" fill="#1a1a1a"/>
<circle cx="566.5" cy="212.5" r="3.5" fill="#e9e9e9"/><circle cx="566.5" cy="212.5" r="2.15" fill="#1a1a1a"/>
<circle cx="81.7" cy="224.6" r="3.5" fill="#e9e9e9"/><circle cx="81.7" cy="224.6" r="2.15" fill="#1a1a1a"/>
<circle cx="93.82" cy="224.6" r="3.5" fill="#e9e9e9"/><circle cx="93.82" cy="224.6" r="2.15" fill="#1a1a1a"/>
<circle cx="105.94" cy="224.6" r="3.5" fill="#e9e9e9"/><circle cx="105.94" cy="224.6" r="2.15" fill="#1a1a1a"/>
<circle cx="118.06" cy="224.6" r="3.5" fill="#e9e9e9"/><circle cx="118.06" cy="224.6" r="2.15" fill="#1a1a1a"/>
<circle cx="130.18" cy="224.6" r="3.5" fill="#e9e9e9"/><circle cx="130.18" cy="224.6" r="2.15" fill="#1a1a1a"/>
<circle cx="142.3" cy="224.6" r="3.5" fill="#e9e9e9"/><circle cx="142.3" cy="224.6" r="2.15" fill="#1a1a1a"/>
<circle cx="154.42" cy="224.6" r="3.6" fill="#bfe6bf"/><circle cx="154.42" cy="224.6" r="2.1" fill="#1f5a1f"/>
<circle cx="166.54" cy="224.6" r="3.5" fill="#e9e9e9"/><circle cx="166.54" cy="224.6" r="2.15" fill="#1a1a1a"/>
<circle cx="178.66" cy="224.6" r="3.6" fill="#bfe6bf"/><circle cx="178.66" cy="224.6" r="2.1" fill="#1f5a1f"/>
<circle cx="190.78" cy="224.6" r="3.5" fill="#e9e9e9"/><circle cx="190.78" cy="224.6" r="2.15" fill="#1a1a1a"/>
<circle cx="202.9" cy="224.6" r="3.6" fill="#bfe6bf"/><circle cx="202.9" cy="224.6" r="2.1" fill="#1f5a1f"/>
<circle cx="215.02" cy="224.6" r="3.5" fill="#e9e9e9"/><circle cx="215.02" cy="224.6" r="2.15" fill="#1a1a1a"/>
<circle cx="227.14" cy="224.6" r="3.6" fill="#bfe6bf"/><circle cx="227.14" cy="224.6" r="2.1" fill="#1f5a1f"/>
<circle cx="239.26" cy="224.6" r="3.5" fill="#e9e9e9"/><circle cx="239.26" cy="224.6" r="2.15" fill="#1a1a1a"/>
<circle cx="251.38" cy="224.6" r="3.6" fill="#bfe6bf"/><circle cx="251.38" cy="224.6" r="2.1" fill="#1f5a1f"/>
<circle cx="263.5" cy="224.6" r="3.5" fill="#e9e9e9"/><circle cx="263.5" cy="224.6" r="2.15" fill="#1a1a1a"/>
<circle cx="275.62" cy="224.6" r="3.6" fill="#bfe6bf"/><circle cx="275.62" cy="224.6" r="2.1" fill="#1f5a1f"/>
<circle cx="287.74" cy="224.6" r="3.5" fill="#e9e9e9"/><circle cx="287.74" cy="224.6" r="2.15" fill="#1a1a1a"/>
<circle cx="299.86" cy="224.6" r="3.5" fill="#e9e9e9"/><circle cx="299.86" cy="224.6" r="2.15" fill="#1a1a1a"/>
<circle cx="311.98" cy="224.6" r="3.5" fill="#e9e9e9"/><circle cx="311.98" cy="224.6" r="2.15" fill="#1a1a1a"/>
<circle cx="324.1" cy="224.6" r="3.5" fill="#e9e9e9"/><circle cx="324.1" cy="224.6" r="2.15" fill="#1a1a1a"/>
<circle cx="336.22" cy="224.6" r="3.6" fill="#bfe6bf"/><circle cx="336.22" cy="224.6" r="2.1" fill="#1f5a1f"/>
<circle cx="348.34" cy="224.6" r="3.5" fill="#e9e9e9"/><circle cx="348.34" cy="224.6" r="2.15" fill="#1a1a1a"/>
<circle cx="360.46" cy="224.6" r="3.5" fill="#e9e9e9"/><circle cx="360.46" cy="224.6" r="2.15" fill="#1a1a1a"/>
<circle cx="372.58" cy="224.6" r="3.6" fill="#bfe6bf"/><circle cx="372.58" cy="224.6" r="2.1" fill="#1f5a1f"/>
<circle cx="384.7" cy="224.6" r="3.5" fill="#e9e9e9"/><circle cx="384.7" cy="224.6" r="2.15" fill="#1a1a1a"/>
<circle cx="396.82" cy="224.6" r="3.5" fill="#e9e9e9"/><circle cx="396.82" cy="224.6" r="2.15" fill="#1a1a1a"/>
<circle cx="408.94" cy="224.6" r="3.5" fill="#e9e9e9"/><circle cx="408.94" cy="224.6" r="2.15" fill="#1a1a1a"/>
<circle cx="421.06" cy="224.6" r="3.5" fill="#e9e9e9"/><circle cx="421.06" cy="224.6" r="2.15" fill="#1a1a1a"/>
<circle cx="433.18" cy="224.6" r="3.5" fill="#e9e9e9"/><circle cx="433.18" cy="224.6" r="2.15" fill="#1a1a1a"/>
<circle cx="445.3" cy="224.6" r="3.5" fill="#e9e9e9"/><circle cx="445.3" cy="224.6" r="2.15" fill="#1a1a1a"/>
<circle cx="457.42" cy="224.6" r="3.5" fill="#e9e9e9"/><circle cx="457.42" cy="224.6" r="2.15" fill="#1a1a1a"/>
<circle cx="469.54" cy="224.6" r="3.5" fill="#e9e9e9"/><circle cx="469.54" cy="224.6" r="2.15" fill="#1a1a1a"/>
<circle cx="481.66" cy="224.6" r="3.5" fill="#e9e9e9"/><circle cx="481.66" cy="224.6" r="2.15" fill="#1a1a1a"/>
<circle cx="493.78" cy="224.6" r="3.5" fill="#e9e9e9"/><circle cx="493.78" cy="224.6" r="2.15" fill="#1a1a1a"/>
<circle cx="505.9" cy="224.6" r="3.5" fill="#e9e9e9"/><circle cx="505.9" cy="224.6" r="2.15" fill="#1a1a1a"/>
<circle cx="518.02" cy="224.6" r="3.5" fill="#e9e9e9"/><circle cx="518.02" cy="224.6" r="2.15" fill="#1a1a1a"/>
<circle cx="530.14" cy="224.6" r="3.5" fill="#e9e9e9"/><circle cx="530.14" cy="224.6" r="2.15" fill="#1a1a1a"/>
<circle cx="542.26" cy="224.6" r="3.5" fill="#e9e9e9"/><circle cx="542.26" cy="224.6" r="2.15" fill="#1a1a1a"/>
<circle cx="554.38" cy="224.6" r="3.5" fill="#e9e9e9"/><circle cx="554.38" cy="224.6" r="2.15" fill="#1a1a1a"/>
<circle cx="566.5" cy="224.6" r="3.5" fill="#e9e9e9"/><circle cx="566.5" cy="224.6" r="2.15" fill="#1a1a1a"/>
<circle cx="81.7" cy="236.7" r="3.5" fill="#e9e9e9"/><circle cx="81.7" cy="236.7" r="2.15" fill="#1a1a1a"/>
<circle cx="93.82" cy="236.7" r="3.5" fill="#e9e9e9"/><circle cx="93.82" cy="236.7" r="2.15" fill="#1a1a1a"/>
<circle cx="105.94" cy="236.7" r="3.5" fill="#e9e9e9"/><circle cx="105.94" cy="236.7" r="2.15" fill="#1a1a1a"/>
<circle cx="118.06" cy="236.7" r="3.5" fill="#e9e9e9"/><circle cx="118.06" cy="236.7" r="2.15" fill="#1a1a1a"/>
<circle cx="130.18" cy="236.7" r="3.5" fill="#e9e9e9"/><circle cx="130.18" cy="236.7" r="2.15" fill="#1a1a1a"/>
<circle cx="142.3" cy="236.7" r="3.5" fill="#e9e9e9"/><circle cx="142.3" cy="236.7" r="2.15" fill="#1a1a1a"/>
<circle cx="154.42" cy="236.7" r="3.6" fill="#bfe6bf"/><circle cx="154.42" cy="236.7" r="2.1" fill="#1f5a1f"/>
<circle cx="166.54" cy="236.7" r="3.5" fill="#e9e9e9"/><circle cx="166.54" cy="236.7" r="2.15" fill="#1a1a1a"/>
<circle cx="178.66" cy="236.7" r="3.6" fill="#bfe6bf"/><circle cx="178.66" cy="236.7" r="2.1" fill="#1f5a1f"/>
<circle cx="190.78" cy="236.7" r="3.5" fill="#e9e9e9"/><circle cx="190.78" cy="236.7" r="2.15" fill="#1a1a1a"/>
<circle cx="202.9" cy="236.7" r="3.6" fill="#bfe6bf"/><circle cx="202.9" cy="236.7" r="2.1" fill="#1f5a1f"/>
<circle cx="215.02" cy="236.7" r="3.5" fill="#e9e9e9"/><circle cx="215.02" cy="236.7" r="2.15" fill="#1a1a1a"/>
<circle cx="227.14" cy="236.7" r="3.6" fill="#bfe6bf"/><circle cx="227.14" cy="236.7" r="2.1" fill="#1f5a1f"/>
<circle cx="239.26" cy="236.7" r="3.5" fill="#e9e9e9"/><circle cx="239.26" cy="236.7" r="2.15" fill="#1a1a1a"/>
<circle cx="251.38" cy="236.7" r="3.6" fill="#bfe6bf"/><circle cx="251.38" cy="236.7" r="2.1" fill="#1f5a1f"/>
<circle cx="263.5" cy="236.7" r="3.5" fill="#e9e9e9"/><circle cx="263.5" cy="236.7" r="2.15" fill="#1a1a1a"/>
<circle cx="275.62" cy="236.7" r="3.6" fill="#bfe6bf"/><circle cx="275.62" cy="236.7" r="2.1" fill="#1f5a1f"/>
<circle cx="287.74" cy="236.7" r="3.5" fill="#e9e9e9"/><circle cx="287.74" cy="236.7" r="2.15" fill="#1a1a1a"/>
<circle cx="299.86" cy="236.7" r="3.5" fill="#e9e9e9"/><circle cx="299.86" cy="236.7" r="2.15" fill="#1a1a1a"/>
<circle cx="311.98" cy="236.7" r="3.5" fill="#e9e9e9"/><circle cx="311.98" cy="236.7" r="2.15" fill="#1a1a1a"/>
<circle cx="324.1" cy="236.7" r="3.5" fill="#e9e9e9"/><circle cx="324.1" cy="236.7" r="2.15" fill="#1a1a1a"/>
<circle cx="336.22" cy="236.7" r="3.6" fill="#bfe6bf"/><circle cx="336.22" cy="236.7" r="2.1" fill="#1f5a1f"/>
<circle cx="348.34" cy="236.7" r="3.5" fill="#e9e9e9"/><circle cx="348.34" cy="236.7" r="2.15" fill="#1a1a1a"/>
<circle cx="360.46" cy="236.7" r="3.5" fill="#e9e9e9"/><circle cx="360.46" cy="236.7" r="2.15" fill="#1a1a1a"/>
<circle cx="372.58" cy="236.7" r="3.6" fill="#bfe6bf"/><circle cx="372.58" cy="236.7" r="2.1" fill="#1f5a1f"/>
<circle cx="384.7" cy="236.7" r="3.5" fill="#e9e9e9"/><circle cx="384.7" cy="236.7" r="2.15" fill="#1a1a1a"/>
<circle cx="396.82" cy="236.7" r="3.5" fill="#e9e9e9"/><circle cx="396.82" cy="236.7" r="2.15" fill="#1a1a1a"/>
<circle cx="408.94" cy="236.7" r="3.5" fill="#e9e9e9"/><circle cx="408.94" cy="236.7" r="2.15" fill="#1a1a1a"/>
<circle cx="421.06" cy="236.7" r="3.5" fill="#e9e9e9"/><circle cx="421.06" cy="236.7" r="2.15" fill="#1a1a1a"/>
<circle cx="433.18" cy="236.7" r="3.5" fill="#e9e9e9"/><circle cx="433.18" cy="236.7" r="2.15" fill="#1a1a1a"/>
<circle cx="445.3" cy="236.7" r="3.5" fill="#e9e9e9"/><circle cx="445.3" cy="236.7" r="2.15" fill="#1a1a1a"/>
<circle cx="457.42" cy="236.7" r="3.5" fill="#e9e9e9"/><circle cx="457.42" cy="236.7" r="2.15" fill="#1a1a1a"/>
<circle cx="469.54" cy="236.7" r="3.5" fill="#e9e9e9"/><circle cx="469.54" cy="236.7" r="2.15" fill="#1a1a1a"/>
<circle cx="481.66" cy="236.7" r="3.5" fill="#e9e9e9"/><circle cx="481.66" cy="236.7" r="2.15" fill="#1a1a1a"/>
<circle cx="493.78" cy="236.7" r="3.5" fill="#e9e9e9"/><circle cx="493.78" cy="236.7" r="2.15" fill="#1a1a1a"/>
<circle cx="505.9" cy="236.7" r="3.5" fill="#e9e9e9"/><circle cx="505.9" cy="236.7" r="2.15" fill="#1a1a1a"/>
<circle cx="518.02" cy="236.7" r="3.5" fill="#e9e9e9"/><circle cx="518.02" cy="236.7" r="2.15" fill="#1a1a1a"/>
<circle cx="530.14" cy="236.7" r="3.5" fill="#e9e9e9"/><circle cx="530.14" cy="236.7" r="2.15" fill="#1a1a1a"/>
<circle cx="542.26" cy="236.7" r="3.5" fill="#e9e9e9"/><circle cx="542.26" cy="236.7" r="2.15" fill="#1a1a1a"/>
<circle cx="554.38" cy="236.7" r="3.5" fill="#e9e9e9"/><circle cx="554.38" cy="236.7" r="2.15" fill="#1a1a1a"/>
<circle cx="566.5" cy="236.7" r="3.5" fill="#e9e9e9"/><circle cx="566.5" cy="236.7" r="2.15" fill="#1a1a1a"/>
<circle cx="81.7" cy="248.9" r="3.5" fill="#e9e9e9"/><circle cx="81.7" cy="248.9" r="2.15" fill="#1a1a1a"/>
<circle cx="93.82" cy="248.9" r="3.5" fill="#e9e9e9"/><circle cx="93.82" cy="248.9" r="2.15" fill="#1a1a1a"/>
<circle cx="105.94" cy="248.9" r="3.5" fill="#e9e9e9"/><circle cx="105.94" cy="248.9" r="2.15" fill="#1a1a1a"/>
<circle cx="118.06" cy="248.9" r="3.5" fill="#e9e9e9"/><circle cx="118.06" cy="248.9" r="2.15" fill="#1a1a1a"/>
<circle cx="130.18" cy="248.9" r="3.5" fill="#e9e9e9"/><circle cx="130.18" cy="248.9" r="2.15" fill="#1a1a1a"/>
<circle cx="142.3" cy="248.9" r="3.5" fill="#e9e9e9"/><circle cx="142.3" cy="248.9" r="2.15" fill="#1a1a1a"/>
<circle cx="154.42" cy="248.9" r="3.6" fill="#bfe6bf"/><circle cx="154.42" cy="248.9" r="2.1" fill="#1f5a1f"/>
<circle cx="166.54" cy="248.9" r="3.5" fill="#e9e9e9"/><circle cx="166.54" cy="248.9" r="2.15" fill="#1a1a1a"/>
<circle cx="178.66" cy="248.9" r="3.6" fill="#bfe6bf"/><circle cx="178.66" cy="248.9" r="2.1" fill="#1f5a1f"/>
<circle cx="190.78" cy="248.9" r="3.5" fill="#e9e9e9"/><circle cx="190.78" cy="248.9" r="2.15" fill="#1a1a1a"/>
<circle cx="202.9" cy="248.9" r="3.6" fill="#bfe6bf"/><circle cx="202.9" cy="248.9" r="2.1" fill="#1f5a1f"/>
<circle cx="215.02" cy="248.9" r="3.5" fill="#e9e9e9"/><circle cx="215.02" cy="248.9" r="2.15" fill="#1a1a1a"/>
<circle cx="227.14" cy="248.9" r="3.6" fill="#bfe6bf"/><circle cx="227.14" cy="248.9" r="2.1" fill="#1f5a1f"/>
<circle cx="239.26" cy="248.9" r="3.5" fill="#e9e9e9"/><circle cx="239.26" cy="248.9" r="2.15" fill="#1a1a1a"/>
<circle cx="251.38" cy="248.9" r="3.6" fill="#bfe6bf"/><circle cx="251.38" cy="248.9" r="2.1" fill="#1f5a1f"/>
<circle cx="263.5" cy="248.9" r="3.5" fill="#e9e9e9"/><circle cx="263.5" cy="248.9" r="2.15" fill="#1a1a1a"/>
<circle cx="275.62" cy="248.9" r="3.6" fill="#bfe6bf"/><circle cx="275.62" cy="248.9" r="2.1" fill="#1f5a1f"/>
<circle cx="287.74" cy="248.9" r="3.5" fill="#e9e9e9"/><circle cx="287.74" cy="248.9" r="2.15" fill="#1a1a1a"/>
<circle cx="299.86" cy="248.9" r="3.5" fill="#e9e9e9"/><circle cx="299.86" cy="248.9" r="2.15" fill="#1a1a1a"/>
<circle cx="311.98" cy="248.9" r="3.5" fill="#e9e9e9"/><circle cx="311.98" cy="248.9" r="2.15" fill="#1a1a1a"/>
<circle cx="324.1" cy="248.9" r="3.5" fill="#e9e9e9"/><circle cx="324.1" cy="248.9" r="2.15" fill="#1a1a1a"/>
<circle cx="336.22" cy="248.9" r="3.6" fill="#bfe6bf"/><circle cx="336.22" cy="248.9" r="2.1" fill="#1f5a1f"/>
<circle cx="348.34" cy="248.9" r="3.5" fill="#e9e9e9"/><circle cx="348.34" cy="248.9" r="2.15" fill="#1a1a1a"/>
<circle cx="360.46" cy="248.9" r="3.5" fill="#e9e9e9"/><circle cx="360.46" cy="248.9" r="2.15" fill="#1a1a1a"/>
<circle cx="372.58" cy="248.9" r="3.6" fill="#bfe6bf"/><circle cx="372.58" cy="248.9" r="2.1" fill="#1f5a1f"/>
<circle cx="384.7" cy="248.9" r="3.5" fill="#e9e9e9"/><circle cx="384.7" cy="248.9" r="2.15" fill="#1a1a1a"/>
<circle cx="396.82" cy="248.9" r="3.5" fill="#e9e9e9"/><circle cx="396.82" cy="248.9" r="2.15" fill="#1a1a1a"/>
<circle cx="408.94" cy="248.9" r="3.5" fill="#e9e9e9"/><circle cx="408.94" cy="248.9" r="2.15" fill="#1a1a1a"/>
<circle cx="421.06" cy="248.9" r="3.5" fill="#e9e9e9"/><circle cx="421.06" cy="248.9" r="2.15" fill="#1a1a1a"/>
<circle cx="433.18" cy="248.9" r="3.5" fill="#e9e9e9"/><circle cx="433.18" cy="248.9" r="2.15" fill="#1a1a1a"/>
<circle cx="445.3" cy="248.9" r="3.5" fill="#e9e9e9"/><circle cx="445.3" cy="248.9" r="2.15" fill="#1a1a1a"/>
<circle cx="457.42" cy="248.9" r="3.5" fill="#e9e9e9"/><circle cx="457.42" cy="248.9" r="2.15" fill="#1a1a1a"/>
<circle cx="469.54" cy="248.9" r="3.5" fill="#e9e9e9"/><circle cx="469.54" cy="248.9" r="2.15" fill="#1a1a1a"/>
<circle cx="481.66" cy="248.9" r="3.5" fill="#e9e9e9"/><circle cx="481.66" cy="248.9" r="2.15" fill="#1a1a1a"/>
<circle cx="493.78" cy="248.9" r="3.5" fill="#e9e9e9"/><circle cx="493.78" cy="248.9" r="2.15" fill="#1a1a1a"/>
<circle cx="505.9" cy="248.9" r="3.5" fill="#e9e9e9"/><circle cx="505.9" cy="248.9" r="2.15" fill="#1a1a1a"/>
<circle cx="518.02" cy="248.9" r="3.5" fill="#e9e9e9"/><circle cx="518.02" cy="248.9" r="2.15" fill="#1a1a1a"/>
<circle cx="530.14" cy="248.9" r="3.5" fill="#e9e9e9"/><circle cx="530.14" cy="248.9" r="2.15" fill="#1a1a1a"/>
<circle cx="542.26" cy="248.9" r="3.5" fill="#e9e9e9"/><circle cx="542.26" cy="248.9" r="2.15" fill="#1a1a1a"/>
<circle cx="554.38" cy="248.9" r="3.5" fill="#e9e9e9"/><circle cx="554.38" cy="248.9" r="2.15" fill="#1a1a1a"/>
<circle cx="566.5" cy="248.9" r="3.5" fill="#e9e9e9"/><circle cx="566.5" cy="248.9" r="2.15" fill="#1a1a1a"/>
<circle cx="81.7" cy="261.0" r="3.5" fill="#e9e9e9"/><circle cx="81.7" cy="261.0" r="2.15" fill="#1a1a1a"/>
<circle cx="93.82" cy="261.0" r="3.5" fill="#e9e9e9"/><circle cx="93.82" cy="261.0" r="2.15" fill="#1a1a1a"/>
<circle cx="105.94" cy="261.0" r="3.5" fill="#e9e9e9"/><circle cx="105.94" cy="261.0" r="2.15" fill="#1a1a1a"/>
<circle cx="118.06" cy="261.0" r="3.5" fill="#e9e9e9"/><circle cx="118.06" cy="261.0" r="2.15" fill="#1a1a1a"/>
<circle cx="130.18" cy="261.0" r="3.5" fill="#e9e9e9"/><circle cx="130.18" cy="261.0" r="2.15" fill="#1a1a1a"/>
<circle cx="142.3" cy="261.0" r="3.5" fill="#e9e9e9"/><circle cx="142.3" cy="261.0" r="2.15" fill="#1a1a1a"/>
<circle cx="154.42" cy="261.0" r="3.6" fill="#bfe6bf"/><circle cx="154.42" cy="261.0" r="2.1" fill="#1f5a1f"/>
<circle cx="166.54" cy="261.0" r="3.5" fill="#e9e9e9"/><circle cx="166.54" cy="261.0" r="2.15" fill="#1a1a1a"/>
<circle cx="178.66" cy="261.0" r="3.6" fill="#bfe6bf"/><circle cx="178.66" cy="261.0" r="2.1" fill="#1f5a1f"/>
<circle cx="190.78" cy="261.0" r="3.5" fill="#e9e9e9"/><circle cx="190.78" cy="261.0" r="2.15" fill="#1a1a1a"/>
<circle cx="202.9" cy="261.0" r="3.6" fill="#bfe6bf"/><circle cx="202.9" cy="261.0" r="2.1" fill="#1f5a1f"/>
<circle cx="215.02" cy="261.0" r="3.5" fill="#e9e9e9"/><circle cx="215.02" cy="261.0" r="2.15" fill="#1a1a1a"/>
<circle cx="227.14" cy="261.0" r="3.6" fill="#bfe6bf"/><circle cx="227.14" cy="261.0" r="2.1" fill="#1f5a1f"/>
<circle cx="239.26" cy="261.0" r="3.5" fill="#e9e9e9"/><circle cx="239.26" cy="261.0" r="2.15" fill="#1a1a1a"/>
<circle cx="251.38" cy="261.0" r="3.6" fill="#bfe6bf"/><circle cx="251.38" cy="261.0" r="2.1" fill="#1f5a1f"/>
<circle cx="263.5" cy="261.0" r="3.5" fill="#e9e9e9"/><circle cx="263.5" cy="261.0" r="2.15" fill="#1a1a1a"/>
<circle cx="275.62" cy="261.0" r="3.6" fill="#bfe6bf"/><circle cx="275.62" cy="261.0" r="2.1" fill="#1f5a1f"/>
<circle cx="287.74" cy="261.0" r="3.5" fill="#e9e9e9"/><circle cx="287.74" cy="261.0" r="2.15" fill="#1a1a1a"/>
<circle cx="299.86" cy="261.0" r="3.5" fill="#e9e9e9"/><circle cx="299.86" cy="261.0" r="2.15" fill="#1a1a1a"/>
<circle cx="311.98" cy="261.0" r="3.5" fill="#e9e9e9"/><circle cx="311.98" cy="261.0" r="2.15" fill="#1a1a1a"/>
<circle cx="324.1" cy="261.0" r="3.5" fill="#e9e9e9"/><circle cx="324.1" cy="261.0" r="2.15" fill="#1a1a1a"/>
<circle cx="336.22" cy="261.0" r="3.6" fill="#bfe6bf"/><circle cx="336.22" cy="261.0" r="2.1" fill="#1f5a1f"/>
<circle cx="348.34" cy="261.0" r="3.5" fill="#e9e9e9"/><circle cx="348.34" cy="261.0" r="2.15" fill="#1a1a1a"/>
<circle cx="360.46" cy="261.0" r="3.5" fill="#e9e9e9"/><circle cx="360.46" cy="261.0" r="2.15" fill="#1a1a1a"/>
<circle cx="372.58" cy="261.0" r="3.6" fill="#bfe6bf"/><circle cx="372.58" cy="261.0" r="2.1" fill="#1f5a1f"/>
<circle cx="384.7" cy="261.0" r="3.5" fill="#e9e9e9"/><circle cx="384.7" cy="261.0" r="2.15" fill="#1a1a1a"/>
<circle cx="396.82" cy="261.0" r="3.5" fill="#e9e9e9"/><circle cx="396.82" cy="261.0" r="2.15" fill="#1a1a1a"/>
<circle cx="408.94" cy="261.0" r="3.5" fill="#e9e9e9"/><circle cx="408.94" cy="261.0" r="2.15" fill="#1a1a1a"/>
<circle cx="421.06" cy="261.0" r="3.5" fill="#e9e9e9"/><circle cx="421.06" cy="261.0" r="2.15" fill="#1a1a1a"/>
<circle cx="433.18" cy="261.0" r="3.5" fill="#e9e9e9"/><circle cx="433.18" cy="261.0" r="2.15" fill="#1a1a1a"/>
<circle cx="445.3" cy="261.0" r="3.5" fill="#e9e9e9"/><circle cx="445.3" cy="261.0" r="2.15" fill="#1a1a1a"/>
<circle cx="457.42" cy="261.0" r="3.5" fill="#e9e9e9"/><circle cx="457.42" cy="261.0" r="2.15" fill="#1a1a1a"/>
<circle cx="469.54" cy="261.0" r="3.5" fill="#e9e9e9"/><circle cx="469.54" cy="261.0" r="2.15" fill="#1a1a1a"/>
<circle cx="481.66" cy="261.0" r="3.5" fill="#e9e9e9"/><circle cx="481.66" cy="261.0" r="2.15" fill="#1a1a1a"/>
<circle cx="493.78" cy="261.0" r="3.5" fill="#e9e9e9"/><circle cx="493.78" cy="261.0" r="2.15" fill="#1a1a1a"/>
<circle cx="505.9" cy="261.0" r="3.5" fill="#e9e9e9"/><circle cx="505.9" cy="261.0" r="2.15" fill="#1a1a1a"/>
<circle cx="518.02" cy="261.0" r="3.5" fill="#e9e9e9"/><circle cx="518.02" cy="261.0" r="2.15" fill="#1a1a1a"/>
<circle cx="530.14" cy="261.0" r="3.5" fill="#e9e9e9"/><circle cx="530.14" cy="261.0" r="2.15" fill="#1a1a1a"/>
<circle cx="542.26" cy="261.0" r="3.5" fill="#e9e9e9"/><circle cx="542.26" cy="261.0" r="2.15" fill="#1a1a1a"/>
<circle cx="554.38" cy="261.0" r="3.5" fill="#e9e9e9"/><circle cx="554.38" cy="261.0" r="2.15" fill="#1a1a1a"/>
<circle cx="566.5" cy="261.0" r="3.5" fill="#e9e9e9"/><circle cx="566.5" cy="261.0" r="2.15" fill="#1a1a1a"/>
<circle cx="105.94" cy="297.4" r="3.6" fill="#bfe6bf"/><circle cx="105.94" cy="297.4" r="2.1" fill="#1f5a1f"/>
<circle cx="118.06" cy="297.4" r="3.6" fill="#bfe6bf"/><circle cx="118.06" cy="297.4" r="2.1" fill="#1f5a1f"/>
<circle cx="130.18" cy="297.4" r="3.6" fill="#bfe6bf"/><circle cx="130.18" cy="297.4" r="2.1" fill="#1f5a1f"/>
<circle cx="142.3" cy="297.4" r="3.6" fill="#bfe6bf"/><circle cx="142.3" cy="297.4" r="2.1" fill="#1f5a1f"/>
<circle cx="154.42" cy="297.4" r="3.6" fill="#bfe6bf"/><circle cx="154.42" cy="297.4" r="2.1" fill="#1f5a1f"/>
<circle cx="178.66" cy="297.4" r="3.6" fill="#bfe6bf"/><circle cx="178.66" cy="297.4" r="2.1" fill="#1f5a1f"/>
<circle cx="190.78" cy="297.4" r="3.6" fill="#bfe6bf"/><circle cx="190.78" cy="297.4" r="2.1" fill="#1f5a1f"/>
<circle cx="202.9" cy="297.4" r="3.6" fill="#bfe6bf"/><circle cx="202.9" cy="297.4" r="2.1" fill="#1f5a1f"/>
<circle cx="215.02" cy="297.4" r="3.6" fill="#bfe6bf"/><circle cx="215.02" cy="297.4" r="2.1" fill="#1f5a1f"/>
<circle cx="227.14" cy="297.4" r="3.6" fill="#bfe6bf"/><circle cx="227.14" cy="297.4" r="2.1" fill="#1f5a1f"/>
<circle cx="251.38" cy="297.4" r="3.6" fill="#bfe6bf"/><circle cx="251.38" cy="297.4" r="2.1" fill="#1f5a1f"/>
<circle cx="263.5" cy="297.4" r="3.6" fill="#bfe6bf"/><circle cx="263.5" cy="297.4" r="2.1" fill="#1f5a1f"/>
<circle cx="275.62" cy="297.4" r="3.6" fill="#bfe6bf"/><circle cx="275.62" cy="297.4" r="2.1" fill="#1f5a1f"/>
<circle cx="287.74" cy="297.4" r="3.6" fill="#bfe6bf"/><circle cx="287.74" cy="297.4" r="2.1" fill="#1f5a1f"/>
<circle cx="299.86" cy="297.4" r="3.6" fill="#bfe6bf"/><circle cx="299.86" cy="297.4" r="2.1" fill="#1f5a1f"/>
<circle cx="324.1" cy="297.4" r="3.6" fill="#bfe6bf"/><circle cx="324.1" cy="297.4" r="2.1" fill="#1f5a1f"/>
<circle cx="336.22" cy="297.4" r="3.6" fill="#bfe6bf"/><circle cx="336.22" cy="297.4" r="2.1" fill="#1f5a1f"/>
<circle cx="348.34" cy="297.4" r="3.6" fill="#bfe6bf"/><circle cx="348.34" cy="297.4" r="2.1" fill="#1f5a1f"/>
<circle cx="360.46" cy="297.4" r="3.6" fill="#bfe6bf"/><circle cx="360.46" cy="297.4" r="2.1" fill="#1f5a1f"/>
<circle cx="372.58" cy="297.4" r="3.6" fill="#bfe6bf"/><circle cx="372.58" cy="297.4" r="2.1" fill="#1f5a1f"/>
<circle cx="396.82" cy="297.4" r="3.6" fill="#bfe6bf"/><circle cx="396.82" cy="297.4" r="2.1" fill="#1f5a1f"/>
<circle cx="408.94" cy="297.4" r="3.6" fill="#bfe6bf"/><circle cx="408.94" cy="297.4" r="2.1" fill="#1f5a1f"/>
<circle cx="421.06" cy="297.4" r="3.6" fill="#bfe6bf"/><circle cx="421.06" cy="297.4" r="2.1" fill="#1f5a1f"/>
<circle cx="433.18" cy="297.4" r="3.6" fill="#bfe6bf"/><circle cx="433.18" cy="297.4" r="2.1" fill="#1f5a1f"/>
<circle cx="445.3" cy="297.4" r="3.6" fill="#bfe6bf"/><circle cx="445.3" cy="297.4" r="2.1" fill="#1f5a1f"/>
<circle cx="469.54" cy="297.4" r="3.6" fill="#bfe6bf"/><circle cx="469.54" cy="297.4" r="2.1" fill="#1f5a1f"/>
<circle cx="481.66" cy="297.4" r="3.6" fill="#bfe6bf"/><circle cx="481.66" cy="297.4" r="2.1" fill="#1f5a1f"/>
<circle cx="493.78" cy="297.4" r="3.6" fill="#bfe6bf"/><circle cx="493.78" cy="297.4" r="2.1" fill="#1f5a1f"/>
<circle cx="505.9" cy="297.4" r="3.6" fill="#bfe6bf"/><circle cx="505.9" cy="297.4" r="2.1" fill="#1f5a1f"/>
<circle cx="518.02" cy="297.4" r="3.6" fill="#bfe6bf"/><circle cx="518.02" cy="297.4" r="2.1" fill="#1f5a1f"/>
<circle cx="542.26" cy="297.4" r="3.6" fill="#bfe6bf"/><circle cx="542.26" cy="297.4" r="2.1" fill="#1f5a1f"/>
<circle cx="554.38" cy="297.4" r="3.6" fill="#bfe6bf"/><circle cx="554.38" cy="297.4" r="2.1" fill="#1f5a1f"/>
<circle cx="566.5" cy="297.4" r="3.6" fill="#bfe6bf"/><circle cx="566.5" cy="297.4" r="2.1" fill="#1f5a1f"/>
<circle cx="105.94" cy="309.5" r="3.6" fill="#bfe6bf"/><circle cx="105.94" cy="309.5" r="2.1" fill="#1f5a1f"/>
<circle cx="118.06" cy="309.5" r="3.6" fill="#bfe6bf"/><circle cx="118.06" cy="309.5" r="2.1" fill="#1f5a1f"/>
<circle cx="130.18" cy="309.5" r="3.6" fill="#bfe6bf"/><circle cx="130.18" cy="309.5" r="2.1" fill="#1f5a1f"/>
<circle cx="142.3" cy="309.5" r="3.6" fill="#bfe6bf"/><circle cx="142.3" cy="309.5" r="2.1" fill="#1f5a1f"/>
<circle cx="154.42" cy="309.5" r="3.6" fill="#bfe6bf"/><circle cx="154.42" cy="309.5" r="2.1" fill="#1f5a1f"/>
<circle cx="178.66" cy="309.5" r="3.6" fill="#bfe6bf"/><circle cx="178.66" cy="309.5" r="2.1" fill="#1f5a1f"/>
<circle cx="190.78" cy="309.5" r="3.6" fill="#bfe6bf"/><circle cx="190.78" cy="309.5" r="2.1" fill="#1f5a1f"/>
<circle cx="202.9" cy="309.5" r="3.6" fill="#bfe6bf"/><circle cx="202.9" cy="309.5" r="2.1" fill="#1f5a1f"/>
<circle cx="215.02" cy="309.5" r="3.6" fill="#bfe6bf"/><circle cx="215.02" cy="309.5" r="2.1" fill="#1f5a1f"/>
<circle cx="227.14" cy="309.5" r="3.6" fill="#bfe6bf"/><circle cx="227.14" cy="309.5" r="2.1" fill="#1f5a1f"/>
<circle cx="251.38" cy="309.5" r="3.6" fill="#bfe6bf"/><circle cx="251.38" cy="309.5" r="2.1" fill="#1f5a1f"/>
<circle cx="263.5" cy="309.5" r="3.6" fill="#bfe6bf"/><circle cx="263.5" cy="309.5" r="2.1" fill="#1f5a1f"/>
<circle cx="275.62" cy="309.5" r="3.6" fill="#bfe6bf"/><circle cx="275.62" cy="309.5" r="2.1" fill="#1f5a1f"/>
<circle cx="287.74" cy="309.5" r="3.6" fill="#bfe6bf"/><circle cx="287.74" cy="309.5" r="2.1" fill="#1f5a1f"/>
<circle cx="299.86" cy="309.5" r="3.6" fill="#bfe6bf"/><circle cx="299.86" cy="309.5" r="2.1" fill="#1f5a1f"/>
<circle cx="324.1" cy="309.5" r="3.6" fill="#bfe6bf"/><circle cx="324.1" cy="309.5" r="2.1" fill="#1f5a1f"/>
<circle cx="336.22" cy="309.5" r="3.6" fill="#bfe6bf"/><circle cx="336.22" cy="309.5" r="2.1" fill="#1f5a1f"/>
<circle cx="348.34" cy="309.5" r="3.6" fill="#bfe6bf"/><circle cx="348.34" cy="309.5" r="2.1" fill="#1f5a1f"/>
<circle cx="360.46" cy="309.5" r="3.6" fill="#bfe6bf"/><circle cx="360.46" cy="309.5" r="2.1" fill="#1f5a1f"/>
<circle cx="372.58" cy="309.5" r="3.6" fill="#bfe6bf"/><circle cx="372.58" cy="309.5" r="2.1" fill="#1f5a1f"/>
<circle cx="396.82" cy="309.5" r="3.6" fill="#bfe6bf"/><circle cx="396.82" cy="309.5" r="2.1" fill="#1f5a1f"/>
<circle cx="408.94" cy="309.5" r="3.6" fill="#bfe6bf"/><circle cx="408.94" cy="309.5" r="2.1" fill="#1f5a1f"/>
<circle cx="421.06" cy="309.5" r="3.6" fill="#bfe6bf"/><circle cx="421.06" cy="309.5" r="2.1" fill="#1f5a1f"/>
<circle cx="433.18" cy="309.5" r="3.6" fill="#bfe6bf"/><circle cx="433.18" cy="309.5" r="2.1" fill="#1f5a1f"/>
<circle cx="445.3" cy="309.5" r="3.6" fill="#bfe6bf"/><circle cx="445.3" cy="309.5" r="2.1" fill="#1f5a1f"/>
<circle cx="469.54" cy="309.5" r="3.6" fill="#bfe6bf"/><circle cx="469.54" cy="309.5" r="2.1" fill="#1f5a1f"/>
<circle cx="481.66" cy="309.5" r="3.6" fill="#bfe6bf"/><circle cx="481.66" cy="309.5" r="2.1" fill="#1f5a1f"/>
<circle cx="493.78" cy="309.5" r="3.6" fill="#bfe6bf"/><circle cx="493.78" cy="309.5" r="2.1" fill="#1f5a1f"/>
<circle cx="505.9" cy="309.5" r="3.6" fill="#bfe6bf"/><circle cx="505.9" cy="309.5" r="2.1" fill="#1f5a1f"/>
<circle cx="518.02" cy="309.5" r="3.6" fill="#bfe6bf"/><circle cx="518.02" cy="309.5" r="2.1" fill="#1f5a1f"/>
<circle cx="542.26" cy="309.5" r="3.6" fill="#bfe6bf"/><circle cx="542.26" cy="309.5" r="2.1" fill="#1f5a1f"/>
<circle cx="554.38" cy="309.5" r="3.6" fill="#bfe6bf"/><circle cx="554.38" cy="309.5" r="2.1" fill="#1f5a1f"/>
<circle cx="566.5" cy="309.5" r="3.6" fill="#bfe6bf"/><circle cx="566.5" cy="309.5" r="2.1" fill="#1f5a1f"/>
<g class="sans" font-size="6.2" font-weight="bold" fill="#c2c2c2" text-anchor="middle">
<text transform="translate(79.9 116.5) rotate(90)">1</text>
<text transform="translate(79.9 276.5) rotate(90)">1</text>
<text transform="translate(128.4 116.5) rotate(90)">5</text>
<text transform="translate(128.4 276.5) rotate(90)">5</text>
<text transform="translate(189.0 116.5) rotate(90)">10</text>
<text transform="translate(189.0 276.5) rotate(90)">10</text>
<text transform="translate(249.6 116.5) rotate(90)">15</text>
<text transform="translate(249.6 276.5) rotate(90)">15</text>
<text transform="translate(310.2 116.5) rotate(90)">20</text>
<text transform="translate(310.2 276.5) rotate(90)">20</text>
<text transform="translate(370.8 116.5) rotate(90)">25</text>
<text transform="translate(370.8 276.5) rotate(90)">25</text>
<text transform="translate(455.4 110) rotate(90)" fill="#e4e4e4">30</text>
<text transform="translate(431.4 276.5) rotate(90)">30</text>
<text transform="translate(492.0 276.5) rotate(90)">35</text>
<text transform="translate(552.6 276.5) rotate(90)">40</text>
<text transform="translate(69.5 127.7) rotate(90)" fill="#e2e2e2">J</text>
<text transform="translate(69.5 139.8) rotate(90)" fill="#e2e2e2">I</text>
<text transform="translate(69.5 151.9) rotate(90)" fill="#e2e2e2">H</text>
<text transform="translate(69.5 164.1) rotate(90)" fill="#e2e2e2">G</text>
<text transform="translate(69.5 176.2) rotate(90)" fill="#e2e2e2">F</text>
<text transform="translate(69.5 212.5) rotate(90)" fill="#e2e2e2">E</text>
<text transform="translate(69.5 224.6) rotate(90)" fill="#e2e2e2">D</text>
<text transform="translate(69.5 236.7) rotate(90)" fill="#e2e2e2">C</text>
<text transform="translate(69.5 248.9) rotate(90)" fill="#e2e2e2">B</text>
<text transform="translate(69.5 261.0) rotate(90)" fill="#e2e2e2">A</text>
</g>
<rect x="64" y="281.6" width="511" height="6" fill="#d3d3d3"/>
</g>
<g id="resistors">
<line x1="154.42" y1="248.8" x2="154.42" y2="297.4" stroke="#909090" stroke-width="3.0" stroke-linecap="round"/>
<line x1="154.42" y1="246.5" x2="154.42" y2="254" stroke="#80b28e" stroke-width="4" stroke-linecap="round"/>
<line x1="154.42" y1="291.5" x2="154.42" y2="298.5" stroke="#80b28e" stroke-width="4" stroke-linecap="round"/>
<rect x="148.8" y="258" width="11.2" height="29.5" rx="3.2" fill="#dcc189"/>
<rect x="150.0" y="260.5" width="8.8" height="24.5" rx="1" fill="#e3ca94"/>
<rect x="149.8" y="260" width="9.2" height="1.8" fill="#e0b23c"/>
<rect x="149.8" y="268.6" width="9.2" height="2.6" fill="#8a3c10"/>
<rect x="149.2" y="274.6" width="10.4" height="3.2" fill="#d41f14"/>
<rect x="149.0" y="281.2" width="10.8" height="3.4" fill="#d41f14"/>
<line x1="202.9" y1="248.8" x2="202.9" y2="297.4" stroke="#909090" stroke-width="3.0" stroke-linecap="round"/>
<line x1="202.9" y1="246.5" x2="202.9" y2="254" stroke="#80b28e" stroke-width="4" stroke-linecap="round"/>
<line x1="202.9" y1="291.5" x2="202.9" y2="298.5" stroke="#80b28e" stroke-width="4" stroke-linecap="round"/>
<rect x="197.3" y="258" width="11.2" height="29.5" rx="3.2" fill="#dcc189"/>
<rect x="198.5" y="260.5" width="8.8" height="24.5" rx="1" fill="#e3ca94"/>
<rect x="198.3" y="260" width="9.2" height="1.8" fill="#e0b23c"/>
<rect x="198.3" y="268.6" width="9.2" height="2.6" fill="#8a3c10"/>
<rect x="197.7" y="274.6" width="10.4" height="3.2" fill="#d41f14"/>
<rect x="197.5" y="281.2" width="10.8" height="3.4" fill="#d41f14"/>
<line x1="251.38" y1="248.8" x2="251.38" y2="297.4" stroke="#909090" stroke-width="3.0" stroke-linecap="round"/>
<line x1="251.38" y1="246.5" x2="251.38" y2="254" stroke="#80b28e" stroke-width="4" stroke-linecap="round"/>
<line x1="251.38" y1="291.5" x2="251.38" y2="298.5" stroke="#80b28e" stroke-width="4" stroke-linecap="round"/>
<rect x="245.8" y="258" width="11.2" height="29.5" rx="3.2" fill="#dcc189"/>
<rect x="247.0" y="260.5" width="8.8" height="24.5" rx="1" fill="#e3ca94"/>
<rect x="246.8" y="260" width="9.2" height="1.8" fill="#e0b23c"/>
<rect x="246.8" y="268.6" width="9.2" height="2.6" fill="#8a3c10"/>
<rect x="246.2" y="274.6" width="10.4" height="3.2" fill="#d41f14"/>
<rect x="246.0" y="281.2" width="10.8" height="3.4" fill="#d41f14"/>
<line x1="336.22" y1="248.8" x2="336.22" y2="297.4" stroke="#909090" stroke-width="3.0" stroke-linecap="round"/>
<line x1="336.22" y1="246.5" x2="336.22" y2="254" stroke="#80b28e" stroke-width="4" stroke-linecap="round"/>
<line x1="336.22" y1="291.5" x2="336.22" y2="298.5" stroke="#80b28e" stroke-width="4" stroke-linecap="round"/>
<rect x="330.6" y="258" width="11.2" height="29.5" rx="3.2" fill="#dcc189"/>
<rect x="331.8" y="260.5" width="8.8" height="24.5" rx="1" fill="#e3ca94"/>
<rect x="331.6" y="260" width="9.2" height="1.8" fill="#e0b23c"/>
<rect x="331.6" y="268.6" width="9.2" height="2.6" fill="#8a3c10"/>
<rect x="331.0" y="274.6" width="10.4" height="3.2" fill="#d41f14"/>
<rect x="330.8" y="281.2" width="10.8" height="3.4" fill="#d41f14"/>
</g>
<g id="leds">
<path d="M154.42 184 V236.7" fill="none" stroke="#7c7c7c" stroke-width="3.4" stroke-linecap="round"/>
<path d="M160.9 185 Q165.9 188 167.9 197 L177.0 230 L178.6 236.7" fill="none" stroke="#7c7c7c" stroke-width="3.4" stroke-linecap="round" stroke-linejoin="round"/>
<line x1="154.42" y1="225" x2="154.42" y2="237" stroke="#7aae88" stroke-width="4" stroke-linecap="round"/>
<line x1="176.0" y1="227" x2="178.6" y2="237" stroke="#7aae88" stroke-width="4" stroke-linecap="round"/>
<radialGradient id="lg1" cx="0.5" cy="0.6" r="0.6"><stop offset="0" stop-color="#5ad876"/><stop offset="0.6" stop-color="#3fca5c"/><stop offset="1" stop-color="#2cb54a"/></radialGradient>
<path d="M148.0 180 V158.5 C148.0 141.5 170.6 141.5 170.6 158.5 V166.5 C172.8 168 173.6 170.5 173.6 174 V178 C173.6 183 169.6 186.2 161.3 186.2 C152.0 186.2 148.0 184.5 148.0 180 Z" fill="url(#lg1)" stroke="#5ad876" stroke-opacity="0.6" stroke-width="1"/>
<path d="M153.2 160.5 h14.5 v7.2 h-14.5 z" fill="#2cb54a" opacity="0.6"/>
<path d="M153.0 150.5 C157.0 147 163.0 147 167.0 150" fill="none" stroke="#5ad876" stroke-width="1.6" opacity="0.7" stroke-linecap="round"/>
<path d="M202.9 184 V236.7" fill="none" stroke="#7c7c7c" stroke-width="3.4" stroke-linecap="round"/>
<path d="M209.4 185 Q214.4 188 216.4 197 L225.5 230 L227.1 236.7" fill="none" stroke="#7c7c7c" stroke-width="3.4" stroke-linecap="round" stroke-linejoin="round"/>
<line x1="202.9" y1="225" x2="202.9" y2="237" stroke="#7aae88" stroke-width="4" stroke-linecap="round"/>
<line x1="224.5" y1="227" x2="227.1" y2="237" stroke="#7aae88" stroke-width="4" stroke-linecap="round"/>
<radialGradient id="lg2" cx="0.5" cy="0.6" r="0.6"><stop offset="0" stop-color="#f8ee88"/><stop offset="0.6" stop-color="#f3e566"/><stop offset="1" stop-color="#e6d450"/></radialGradient>
<path d="M196.5 180 V158.5 C196.5 141.5 219.1 141.5 219.1 158.5 V166.5 C221.3 168 222.1 170.5 222.1 174 V178 C222.1 183 218.1 186.2 209.8 186.2 C200.5 186.2 196.5 184.5 196.5 180 Z" fill="url(#lg2)" stroke="#f8ee88" stroke-opacity="0.6" stroke-width="1"/>
<path d="M201.7 160.5 h14.5 v7.2 h-14.5 z" fill="#e6d450" opacity="0.6"/>
<path d="M201.5 150.5 C205.5 147 211.5 147 215.5 150" fill="none" stroke="#f8ee88" stroke-width="1.6" opacity="0.7" stroke-linecap="round"/>
<path d="M251.38 184 V236.7" fill="none" stroke="#7c7c7c" stroke-width="3.4" stroke-linecap="round"/>
<path d="M257.9 185 Q262.9 188 264.9 197 L274.0 230 L275.6 236.7" fill="none" stroke="#7c7c7c" stroke-width="3.4" stroke-linecap="round" stroke-linejoin="round"/>
<line x1="251.38" y1="225" x2="251.38" y2="237" stroke="#7aae88" stroke-width="4" stroke-linecap="round"/>
<line x1="273.0" y1="227" x2="275.6" y2="237" stroke="#7aae88" stroke-width="4" stroke-linecap="round"/>
<radialGradient id="lg3" cx="0.5" cy="0.6" r="0.6"><stop offset="0" stop-color="#f85a56"/><stop offset="0.6" stop-color="#ef3a38"/><stop offset="1" stop-color="#d82626"/></radialGradient>
<path d="M245.0 180 V158.5 C245.0 141.5 267.6 141.5 267.6 158.5 V166.5 C269.8 168 270.6 170.5 270.6 174 V178 C270.6 183 266.6 186.2 258.3 186.2 C249.0 186.2 245.0 184.5 245.0 180 Z" fill="url(#lg3)" stroke="#f85a56" stroke-opacity="0.6" stroke-width="1"/>
<path d="M250.2 160.5 h14.5 v7.2 h-14.5 z" fill="#d82626" opacity="0.6"/>
<path d="M250.0 150.5 C254.0 147 260.0 147 264.0 150" fill="none" stroke="#f85a56" stroke-width="1.6" opacity="0.7" stroke-linecap="round"/>
</g>
<g id="buzzer">
<path d="M311 146 C300 143 288.5 147 288.5 156.6 C288.5 166 300 170 311 167 Z" fill="#0d0d0d"/>
<path d="M399 146 C410 143 421.5 147 421.5 156.6 C421.5 166 410 170 399 167 Z" fill="#0d0d0d"/>
<circle cx="297.6" cy="156.8" r="3.4" fill="#e4e4e4"/>
<circle cx="412.4" cy="156.8" r="3.4" fill="#e4e4e4"/>
<circle cx="355" cy="156.5" r="47.6" fill="#0a0a0a"/>
<circle cx="355" cy="156.5" r="40" fill="none" stroke="#1f1f1f" stroke-width="1"/>
<circle cx="355" cy="156.5" r="34" fill="none" stroke="#1f1f1f" stroke-width="1"/>
<circle cx="355" cy="156.5" r="28.5" fill="none" stroke="#1f1f1f" stroke-width="1"/>
<circle cx="355" cy="156.5" r="23" fill="none" stroke="#1f1f1f" stroke-width="1"/>
<circle cx="355" cy="156.5" r="18" fill="none" stroke="#1f1f1f" stroke-width="1"/>
<circle cx="355" cy="156.5" r="13.5" fill="none" stroke="#1f1f1f" stroke-width="1"/>
<path d="M312 140 A46 46 0 0 1 385 121" fill="none" stroke="#2c2c2c" stroke-width="1.2"/>
<circle cx="354.2" cy="156.6" r="8" fill="#e6e6e6"/>
<path d="M348 203 V222 L342.5 229" fill="none" stroke="#0d0d0d" stroke-width="4.2" stroke-linejoin="round"/>
<path d="M360.6 203 V222 L366.5 229" fill="none" stroke="#e0201c" stroke-width="4.2" stroke-linejoin="round"/>
<line x1="342.5" y1="229" x2="336.5" y2="236.5" stroke="#7fae88" stroke-width="4.4" stroke-linecap="round"/>
<line x1="366.5" y1="229" x2="372.2" y2="236.5" stroke="#7fae88" stroke-width="4.4" stroke-linecap="round"/>
</g>
<g id="wires-sensor">
<path d="M481.7 164.0 L481.7 309.5" fill="none" stroke="#8c1212" stroke-width="5.4" stroke-linecap="round" stroke-linejoin="miter"/>
<path d="M481.7 164.0 L481.7 309.5" fill="none" stroke="#cc1d1d" stroke-width="3.3" stroke-linecap="round" stroke-linejoin="miter"/>
<path d="M518.0 164.0 L518.0 297.4" fill="none" stroke="#0e0e0e" stroke-width="5.2" stroke-linecap="round" stroke-linejoin="miter"/>
<path d="M518.0 164.0 L518.0 297.4" fill="none" stroke="#4a4a4a" stroke-width="2.6" stroke-linecap="round" stroke-linejoin="miter"/>
<circle cx="481.66" cy="163.6" r="1.9" fill="#b0762a"/>
<circle cx="518.02" cy="163.6" r="1.7" fill="#3a7a3a"/>
</g>
<g id="sensor">
<rect x="401.4" y="0" width="199" height="99" fill="#ffffff"/>
<rect x="401.4" y="96" width="173.6" height="14.5" fill="#dbdcdc"/>
<rect x="401.4" y="96" width="3.2" height="3.6" fill="#ffffff"/>
<rect x="404.5" y="98" width="170.5" height="2.6" fill="#dbe6f0"/>
<line x1="482.2" y1="98" x2="482.2" y2="125.5" stroke="#8b8b90" stroke-width="3.5" stroke-linecap="round"/>
<line x1="482.2" y1="122.5" x2="482.2" y2="126.8" stroke="#62bd72" stroke-width="4.6" stroke-linecap="round"/>
<line x1="494.5" y1="98" x2="494.5" y2="125.5" stroke="#8b8b90" stroke-width="3.5" stroke-linecap="round"/>
<line x1="494.5" y1="122.5" x2="494.5" y2="126.8" stroke="#62bd72" stroke-width="4.6" stroke-linecap="round"/>
<line x1="506.9" y1="98" x2="506.9" y2="125.5" stroke="#8b8b90" stroke-width="3.5" stroke-linecap="round"/>
<line x1="506.9" y1="122.5" x2="506.9" y2="126.8" stroke="#62bd72" stroke-width="4.6" stroke-linecap="round"/>
<line x1="519.2" y1="98" x2="519.2" y2="125.5" stroke="#8b8b90" stroke-width="3.5" stroke-linecap="round"/>
<line x1="519.2" y1="122.5" x2="519.2" y2="126.8" stroke="#62bd72" stroke-width="4.6" stroke-linecap="round"/>
<rect x="404.5" y="1" width="196" height="97.6" fill="#1c7dc5"/>
<rect x="404.5" y="0" width="196" height="1.6" fill="#9cc6e6"/>
<circle cx="442.6" cy="49.6" r="38" fill="#b4d1e2"/>
<circle cx="442.6" cy="49.6" r="35" fill="#2e2e2e"/>
<circle cx="442.6" cy="49.6" r="33.6" fill="#404040"/>
<circle cx="560.2" cy="49.6" r="38" fill="#b4d1e2"/>
<circle cx="560.2" cy="49.6" r="35" fill="#2e2e2e"/>
<circle cx="560.2" cy="49.6" r="33.6" fill="#404040"/>
<circle cx="538.2" cy="25.8" r="1.3" fill="#a8621c"/>
<circle cx="582.2" cy="25.8" r="1.3" fill="#a8621c"/>
<circle cx="409.2" cy="7" r="5" fill="#bcdcf0"/><circle cx="409.2" cy="7" r="3.9" fill="#ffffff"/>
<circle cx="409.2" cy="93.6" r="5" fill="#bcdcf0"/><circle cx="409.2" cy="93.6" r="3.9" fill="#ffffff"/>
<circle cx="593.4" cy="7" r="5" fill="#bcdcf0"/><circle cx="593.4" cy="7" r="3.9" fill="#ffffff"/>
<circle cx="593.4" cy="93.6" r="5" fill="#bcdcf0"/><circle cx="593.4" cy="93.6" r="3.9" fill="#ffffff"/>
<ellipse cx="501.2" cy="11.7" rx="24.2" ry="7.5" fill="#c9d6d6"/>
<ellipse cx="501.2" cy="11.7" rx="22.6" ry="6.3" fill="#dbcfa8"/>
<text x="483.4" y="15.7" class="sans" font-size="11.2" font-weight="bold" fill="#26261e" stroke="#26261e" stroke-width="0.25" textLength="37" lengthAdjust="spacingAndGlyphs">4.000</text>
<text x="483.5" y="50.4" class="mono" font-size="7.4" font-weight="bold" fill="#0f468c" textLength="37" lengthAdjust="spacingAndGlyphs">HC-SR04</text>
<rect x="478.8" y="90.2" width="6.8" height="6.8" fill="#cfe3ee"/>
<rect x="479.8" y="91.2" width="4.8" height="4.8" fill="#f4f2e6"/>
<text transform="translate(484.0 88.4) rotate(-90)" class="mono" font-size="5.3" font-weight="bold" fill="#0d3c82">VCC</text>
<rect x="491.1" y="90.2" width="6.8" height="6.8" fill="#cfe3ee"/>
<rect x="492.1" y="91.2" width="4.8" height="4.8" fill="#f4f2e6"/>
<text transform="translate(496.3 88.4) rotate(-90)" class="mono" font-size="5.3" font-weight="bold" fill="#0d3c82">Trig</text>
<rect x="503.5" y="90.2" width="6.8" height="6.8" fill="#cfe3ee"/>
<rect x="504.5" y="91.2" width="4.8" height="4.8" fill="#f4f2e6"/>
<text transform="translate(508.7 88.4) rotate(-90)" class="mono" font-size="5.3" font-weight="bold" fill="#0d3c82">Echo</text>
<rect x="515.8" y="90.2" width="6.8" height="6.8" fill="#cfe3ee"/>
<rect x="516.8" y="91.2" width="4.8" height="4.8" fill="#f4f2e6"/>
<text transform="translate(521.0 88.4) rotate(-90)" class="mono" font-size="5.3" font-weight="bold" fill="#0d3c82">GND</text>
</g>
<g id="arduino">
<path d="M60 346 H361 L368 354 V407 L380 419 V574 L367.5 587 V596 Q367.5 600 363.5 600 H57.5 Q53.5 600 53.5 596 V350 Q53.5 346 57.5 346 Z" fill="#10738f" stroke="#0c607c" stroke-width="1"/>
<circle cx="124" cy="357.6" r="7.3" fill="#ffffff"/>
<circle cx="367.4" cy="430" r="7.3" fill="#ffffff"/>
<circle cx="367.4" cy="563.6" r="7.3" fill="#ffffff"/>
<circle cx="119.4" cy="587.6" r="7.3" fill="#ffffff"/>
<rect x="60" y="350.8" width="5" height="4.2" fill="#e6eef2"/>
<rect x="60" y="361" width="5" height="4.2" fill="#e6eef2"/>
<rect x="60" y="371" width="5" height="4.2" fill="#e6eef2"/>
<rect x="99" y="350.8" width="5" height="4.2" fill="#e6eef2"/>
<rect x="99" y="371" width="5" height="4.2" fill="#e6eef2"/>
<rect x="64" y="347.6" width="36" height="29.8" fill="#d6d6d4"/>
<circle cx="81.4" cy="362.5" r="9" fill="#a82b20"/>
<text x="81.6" y="385.4" class="mono w" font-size="7.6" text-anchor="middle" textLength="24.5" lengthAdjust="spacing" stroke="#ffffff" stroke-width="0.25">RESET</text>
<rect x="53.6" y="385" width="6.6" height="7" fill="#a8a8a8"/>
<rect x="53.6" y="445" width="6.6" height="7" fill="#a8a8a8"/>
<rect x="23.4" y="391.4" width="74" height="54.4" fill="#b4b4b4"/>
<rect x="23.4" y="391.4" width="12.6" height="54.4" fill="#9e9e9e"/>
<rect x="23.4" y="391.4" width="74" height="2.2" fill="#a6a6a6"/>
<rect x="23.4" y="441.6" width="74" height="4.2" fill="#a3a3a3"/>
<rect x="122.6" y="367.6" width="34.6" height="24.6" fill="#3f3f3f"/>
<rect x="125.7" y="371.3" width="4.2" height="4.2" fill="#9d968a"/>
<rect x="125.7" y="383.9" width="4.2" height="4.2" fill="#9d968a"/>
<rect x="137.3" y="371.3" width="4.2" height="4.2" fill="#9d968a"/>
<rect x="137.3" y="383.9" width="4.2" height="4.2" fill="#9d968a"/>
<rect x="148.9" y="371.3" width="4.2" height="4.2" fill="#9d968a"/>
<rect x="148.9" y="383.9" width="4.2" height="4.2" fill="#9d968a"/>
<text x="123" y="399.8" class="mono w" font-size="7.6" textLength="23.5" lengthAdjust="spacing" stroke="#ffffff" stroke-width="0.25">ICSP2</text>
<rect x="156.8" y="366.4" width="2.6" height="2.6" fill="#e8f4f8"/>
<rect x="136" y="423" width="24.6" height="23.6" fill="#3a3a3a"/>
<rect x="136.6" y="351.6" width="121.4" height="11.8" fill="#3c3c3c"/>
<rect x="265.6" y="351.6" width="94.6" height="11.8" fill="#3c3c3c"/>
<rect x="139.5" y="355.2" width="4.6" height="4.6" fill="#0e0e0e"/>
<rect x="151.6" y="355.2" width="4.6" height="4.6" fill="#0e0e0e"/>
<rect x="163.7" y="355.2" width="4.6" height="4.6" fill="#0e0e0e"/>
<text transform="translate(168.4 366.2) rotate(-90)" class="mono w" font-size="6.8" font-weight="bold" text-anchor="end">AREF</text>
<rect x="175.9" y="355.2" width="4.6" height="4.6" fill="#1f6a1f"/>
<text transform="translate(180.6 366.2) rotate(-90)" class="mono w" font-size="6.8" font-weight="bold" text-anchor="end">GND</text>
<rect x="188.0" y="355.2" width="4.6" height="4.6" fill="#0e0e0e"/>
<text transform="translate(192.7 366.2) rotate(-90)" class="mono w" font-size="6.8" font-weight="bold" text-anchor="end">13</text>
<rect x="200.1" y="355.2" width="4.6" height="4.6" fill="#0e0e0e"/>
<text transform="translate(204.8 366.2) rotate(-90)" class="mono w" font-size="6.8" font-weight="bold" text-anchor="end">12</text>
<rect x="212.3" y="355.2" width="4.6" height="4.6" fill="#0e0e0e"/>
<text transform="translate(217.0 366.2) rotate(-90)" class="mono w" font-size="6.8" font-weight="bold" text-anchor="end">~11</text>
<rect x="224.5" y="355.2" width="4.6" height="4.6" fill="#0e0e0e"/>
<text transform="translate(229.2 366.2) rotate(-90)" class="mono w" font-size="6.8" font-weight="bold" text-anchor="end">~10</text>
<rect x="236.7" y="355.2" width="4.6" height="4.6" fill="#0e0e0e"/>
<text transform="translate(241.4 366.2) rotate(-90)" class="mono w" font-size="6.8" font-weight="bold" text-anchor="end">~9</text>
<rect x="248.7" y="355.2" width="4.6" height="4.6" fill="#0e0e0e"/>
<text transform="translate(253.4 366.2) rotate(-90)" class="mono w" font-size="6.8" font-weight="bold" text-anchor="end">8</text>
<rect x="268.9" y="355.2" width="4.6" height="4.6" fill="#0e0e0e"/>
<text transform="translate(273.6 366.2) rotate(-90)" class="mono w" font-size="6.8" font-weight="bold" text-anchor="end">7</text>
<rect x="281.0" y="355.2" width="4.6" height="4.6" fill="#0e0e0e"/>
<text transform="translate(285.7 366.2) rotate(-90)" class="mono w" font-size="6.8" font-weight="bold" text-anchor="end">~6</text>
<rect x="293.1" y="355.2" width="4.6" height="4.6" fill="#0e0e0e"/>
<text transform="translate(297.8 366.2) rotate(-90)" class="mono w" font-size="6.8" font-weight="bold" text-anchor="end">~5</text>
<rect x="305.2" y="355.2" width="4.6" height="4.6" fill="#0e0e0e"/>
<text transform="translate(309.9 366.2) rotate(-90)" class="mono w" font-size="6.8" font-weight="bold" text-anchor="end">4</text>
<rect x="317.3" y="355.2" width="4.6" height="4.6" fill="#0e0e0e"/>
<text transform="translate(322.0 366.2) rotate(-90)" class="mono w" font-size="6.8" font-weight="bold" text-anchor="end">~3</text>
<rect x="329.4" y="355.2" width="4.6" height="4.6" fill="#0e0e0e"/>
<text transform="translate(334.1 366.2) rotate(-90)" class="mono w" font-size="6.8" font-weight="bold" text-anchor="end">2</text>
<rect x="341.5" y="355.2" width="4.6" height="4.6" fill="#0e0e0e"/>
<text transform="translate(346.2 366.2) rotate(-90)" class="mono w" font-size="6.8" font-weight="bold" text-anchor="end" textLength="25.5" lengthAdjust="spacing">TX▶1</text>
<rect x="353.5" y="355.2" width="4.6" height="4.6" fill="#0e0e0e"/>
<text transform="translate(358.2 366.2) rotate(-90)" class="mono w" font-size="6.8" font-weight="bold" text-anchor="end" textLength="25.5" lengthAdjust="spacing">RX◀0</text>
<text x="267.6" y="391.6" class="mono w" font-size="6.6" font-weight="bold" textLength="65" lengthAdjust="spacingAndGlyphs">DIGITAL (PWM=~)</text>
<rect x="178" y="393.6" width="181.5" height="1.9" fill="#e8f4f8"/>
<rect x="179.6" y="400" width="12.4" height="6.4" fill="#f0ebd6"/>
<text x="177.4" y="406.2" class="mono w" font-size="7.6" font-weight="bold" fill="#e4f2f8" text-anchor="end">L</text>
<rect x="179.6" y="422.4" width="12.4" height="6.4" fill="#f0ebd6"/>
<text x="177.4" y="428.59999999999997" class="mono w" font-size="7.6" font-weight="bold" fill="#e4f2f8" text-anchor="end">TX</text>
<rect x="179.6" y="433.6" width="12.4" height="6.4" fill="#f0ebd6"/>
<text x="177.4" y="439.8" class="mono w" font-size="7.6" font-weight="bold" fill="#e4f2f8" text-anchor="end">RX</text>
<path d="M234 413 C228 403.6 223 401.6 218.6 401.6 C212 401.6 207.4 406.8 207.4 413 C207.4 419.2 212 424.4 218.6 424.4 C223 424.4 228 422 234 413 C240 403.6 245 401.6 249.6 401.6 C256 401.6 260.8 406.8 260.8 413 C260.8 419.2 256 424.4 249.6 424.4 C245 424.4 240 422 234 413 Z" fill="none" stroke="#ffffff" stroke-width="5.2"/>
<rect x="214.4" y="411.5" width="8" height="3" fill="#ffffff"/>
<rect x="245" y="411.5" width="9" height="3" fill="#ffffff"/>
<rect x="248" y="408.5" width="3" height="9" fill="#ffffff"/>
<text x="207" y="438.6" class="mono w" font-size="10.2" font-weight="bold" textLength="49.5" lengthAdjust="spacing">Arduino</text>
<text x="258.4" y="432.6" class="sans w" font-size="3.4">TM</text>
<rect x="268.4" y="400.2" width="56.4" height="26.4" rx="13.2" fill="none" stroke="#eef8fc" stroke-width="1.7" stroke-dasharray="1.5 0.7"/>
<text x="297" y="421.2" class="sans w" font-size="22.6" text-anchor="middle" textLength="44" lengthAdjust="spacingAndGlyphs" stroke="#ffffff" stroke-width="0.5">UNO</text>
<rect x="329.6" y="423" width="12.4" height="6" fill="#f0ebd6"/>
<text x="344" y="428.8" class="mono w" font-size="7.6" textLength="11" lengthAdjust="spacingAndGlyphs">ON</text>
<rect x="351" y="449" width="22.4" height="35.4" fill="#3f3f3f"/>
<rect x="354.5" y="452.5" width="4.2" height="4.2" fill="#9d968a"/>
<rect x="354.5" y="464.5" width="4.2" height="4.2" fill="#9d968a"/>
<rect x="354.5" y="476.5" width="4.2" height="4.2" fill="#9d968a"/>
<rect x="366.3" y="452.5" width="4.2" height="4.2" fill="#9d968a"/>
<rect x="366.3" y="464.5" width="4.2" height="4.2" fill="#9d968a"/>
<rect x="366.3" y="476.5" width="4.2" height="4.2" fill="#9d968a"/>
<text x="344.6" y="454.6" class="mono w" font-size="7">1</text>
<text transform="translate(348.6 485.4) rotate(-90)" class="mono w" font-size="7" textLength="20" lengthAdjust="spacingAndGlyphs">ICSP</text>
<rect x="185.6" y="509" width="176" height="26.4" fill="#3a3a3a"/>
<rect x="72" y="509" width="10" height="16.6" fill="#9e9e9e"/>
<rect x="98" y="503.6" width="8.4" height="5" fill="#9e9e9e"/>
<rect x="98" y="514.6" width="8.4" height="5" fill="#9e9e9e"/>
<rect x="98" y="525.6" width="8.4" height="5" fill="#9e9e9e"/>
<rect x="81" y="501" width="18" height="32" fill="#333333"/>
<rect x="45" y="541.4" width="13" height="42.6" fill="#1a1a1a"/>
<rect x="57" y="543" width="51" height="39.4" fill="#222222"/>
<rect x="57" y="543" width="51" height="3" fill="#2e2e2e"/>
<rect x="125.4" y="540" width="31.2" height="32" rx="3.4" fill="#3a3a3a"/>
<circle cx="141" cy="554.6" r="15" fill="#e9e7e3"/>
<path d="M129.8 564.6 H152.2 A15 15 0 0 1 129.8 564.6 Z" fill="#161616"/>
<rect x="140.1" y="538.6" width="1.8" height="1.6" fill="#e8f4f8"/>
<rect x="140.1" y="572" width="1.8" height="1.6" fill="#e8f4f8"/>
<rect x="159.1" y="540" width="31.2" height="32" rx="3.4" fill="#3a3a3a"/>
<circle cx="174.7" cy="554.6" r="15" fill="#e9e7e3"/>
<path d="M163.5 564.6 H185.9 A15 15 0 0 1 163.5 564.6 Z" fill="#161616"/>
<rect x="173.8" y="538.6" width="1.8" height="1.6" fill="#e8f4f8"/>
<rect x="173.8" y="572" width="1.8" height="1.6" fill="#e8f4f8"/>
<rect x="180.6" y="582.4" width="97.4" height="11" fill="#3c3c3c"/>
<rect x="288.6" y="582.4" width="73.4" height="11" fill="#3c3c3c"/>
<rect x="183.7" y="585.4" width="4.6" height="4.6" fill="#0e0e0e"/>
<rect x="195.8" y="585.4" width="4.6" height="4.6" fill="#0e0e0e"/>
<text transform="translate(200.4 578.8) rotate(-90)" class="mono w" font-size="6.2" font-weight="bold">IOREF</text>
<rect x="207.9" y="585.4" width="4.6" height="4.6" fill="#0e0e0e"/>
<text transform="translate(212.5 578.8) rotate(-90)" class="mono w" font-size="6.2" font-weight="bold">RESET</text>
<rect x="220.0" y="585.4" width="4.6" height="4.6" fill="#0e0e0e"/>
<text transform="translate(224.6 578.8) rotate(-90)" class="mono w" font-size="6.2" font-weight="bold">3V3</text>
<rect x="232.1" y="585.4" width="4.6" height="4.6" fill="#0e0e0e"/>
<text transform="translate(236.7 578.8) rotate(-90)" class="mono w" font-size="6.2" font-weight="bold">5V</text>
<rect x="244.2" y="585.4" width="4.6" height="4.6" fill="#1f6a1f"/>
<text transform="translate(248.8 578.8) rotate(-90)" class="mono w" font-size="6.2" font-weight="bold">GND</text>
<rect x="256.3" y="585.4" width="4.6" height="4.6" fill="#1f6a1f"/>
<text transform="translate(260.9 578.8) rotate(-90)" class="mono w" font-size="6.2" font-weight="bold">GND</text>
<rect x="268.3" y="585.4" width="4.6" height="4.6" fill="#0e0e0e"/>
<text transform="translate(272.9 578.8) rotate(-90)" class="mono w" font-size="6.2" font-weight="bold">VIN</text>
<rect x="292.7" y="585.4" width="4.6" height="4.6" fill="#0e0e0e"/>
<text transform="translate(297.3 578.8) rotate(-90)" class="mono w" font-size="6.2" font-weight="bold">A0</text>
<rect x="304.8" y="585.4" width="4.6" height="4.6" fill="#0e0e0e"/>
<text transform="translate(309.4 578.8) rotate(-90)" class="mono w" font-size="6.2" font-weight="bold">A1</text>
<rect x="317.0" y="585.4" width="4.6" height="4.6" fill="#0e0e0e"/>
<text transform="translate(321.6 578.8) rotate(-90)" class="mono w" font-size="6.2" font-weight="bold">A2</text>
<rect x="329.1" y="585.4" width="4.6" height="4.6" fill="#0e0e0e"/>
<text transform="translate(333.7 578.8) rotate(-90)" class="mono w" font-size="6.2" font-weight="bold">A3</text>
<rect x="341.3" y="585.4" width="4.6" height="4.6" fill="#0e0e0e"/>
<text transform="translate(345.9 578.8) rotate(-90)" class="mono w" font-size="6.2" font-weight="bold">A4</text>
<rect x="353.4" y="585.4" width="4.6" height="4.6" fill="#0e0e0e"/>
<text transform="translate(358.0 578.8) rotate(-90)" class="mono w" font-size="6.2" font-weight="bold">A5</text>
<rect x="216" y="557.4" width="61.6" height="1.4" fill="#e8f4f8"/>
<rect x="291" y="557.4" width="68" height="1.4" fill="#e8f4f8"/>
<text x="255.4" y="566.2" class="mono w" font-size="6.8" font-weight="bold" textLength="22" lengthAdjust="spacingAndGlyphs">POWER</text>
<text x="319" y="566.2" class="mono w" font-size="6.8" font-weight="bold" textLength="39" lengthAdjust="spacingAndGlyphs">ANALOG IN</text>
</g>
<g id="wires-arduino">
<path d="M178.7 248.8 L214.6 357.5" fill="none" stroke="#2b62a6" stroke-width="5.4" stroke-linecap="round" stroke-linejoin="miter"/>
<path d="M178.7 248.8 L214.6 357.5" fill="none" stroke="#3f86d4" stroke-width="3.3" stroke-linecap="round" stroke-linejoin="miter"/>
<path d="M227.1 248.8 L226.8 357.5" fill="none" stroke="#2b62a6" stroke-width="5.4" stroke-linecap="round" stroke-linejoin="miter"/>
<path d="M227.1 248.8 L226.8 357.5" fill="none" stroke="#3f86d4" stroke-width="3.3" stroke-linecap="round" stroke-linejoin="miter"/>
<path d="M275.6 248.8 L239.0 357.5" fill="none" stroke="#2b62a6" stroke-width="5.4" stroke-linecap="round" stroke-linejoin="miter"/>
<path d="M275.6 248.8 L239.0 357.5" fill="none" stroke="#3f86d4" stroke-width="3.3" stroke-linecap="round" stroke-linejoin="miter"/>
<path d="M372.6 248.8 L319.6 357.5" fill="none" stroke="#2b62a6" stroke-width="5.4" stroke-linecap="round" stroke-linejoin="miter"/>
<path d="M372.6 248.8 L319.6 357.5" fill="none" stroke="#3f86d4" stroke-width="3.3" stroke-linecap="round" stroke-linejoin="miter"/>
<path d="M105.9 309.5 L234.4 587.6" fill="none" stroke="#8c1212" stroke-width="5.7" stroke-linecap="round" stroke-linejoin="miter"/>
<path d="M105.9 309.5 L234.4 587.6" fill="none" stroke="#dc161e" stroke-width="3.6" stroke-linecap="round" stroke-linejoin="miter"/>
<path d="M118.1 297.4 L246.5 587.6" fill="none" stroke="#0c0c0c" stroke-width="5.3" stroke-linecap="round" stroke-linejoin="miter"/>
<path d="M118.1 297.4 L246.5 587.6" fill="none" stroke="#484848" stroke-width="2.6" stroke-linecap="round" stroke-linejoin="miter"/>
<path d="M493.8 164.0 L493.8 322.2 L276.0 322.2 L271.2 357.5" fill="none" stroke="#1d9c30" stroke-width="5.4" stroke-linecap="round" stroke-linejoin="miter"/>
<path d="M493.8 164.0 L493.8 322.2 L276.0 322.2 L271.2 357.5" fill="none" stroke="#2bcb45" stroke-width="3.3" stroke-linecap="round" stroke-linejoin="miter"/>
<path d="M505.9 164.0 L505.9 333.6 L287.3 333.6 L283.3 357.5" fill="none" stroke="#1d9c30" stroke-width="5.4" stroke-linecap="round" stroke-linejoin="miter"/>
<path d="M505.9 164.0 L505.9 333.6 L287.3 333.6 L283.3 357.5" fill="none" stroke="#2bcb45" stroke-width="3.3" stroke-linecap="round" stroke-linejoin="miter"/>
<circle cx="214.6" cy="357.6" r="2.3" fill="#4aa98c"/>
<circle cx="226.8" cy="357.6" r="2.3" fill="#4aa98c"/>
<circle cx="239" cy="357.6" r="2.3" fill="#4aa98c"/>
<circle cx="319.6" cy="357.6" r="2.3" fill="#4aa98c"/>
<circle cx="178.66" cy="248.8" r="2" fill="#3f9fb0" opacity="0.8"/>
<circle cx="227.14" cy="248.8" r="2" fill="#3f9fb0" opacity="0.8"/>
<circle cx="275.62" cy="248.8" r="2" fill="#3f9fb0" opacity="0.8"/>
<circle cx="372.58" cy="248.8" r="2" fill="#3f9fb0" opacity="0.8"/>
<circle cx="234.4" cy="587.4" r="2.2" fill="#6a8a2a"/>
<circle cx="246.5" cy="587.4" r="2.2" fill="#2f6a2f"/>
<circle cx="105.94" cy="309.3" r="2.1" fill="#a8702a"/>
<circle cx="481.66" cy="309.3" r="2.1" fill="#a8702a"/>
</g>
</g>
</svg>
</body>
</html>
